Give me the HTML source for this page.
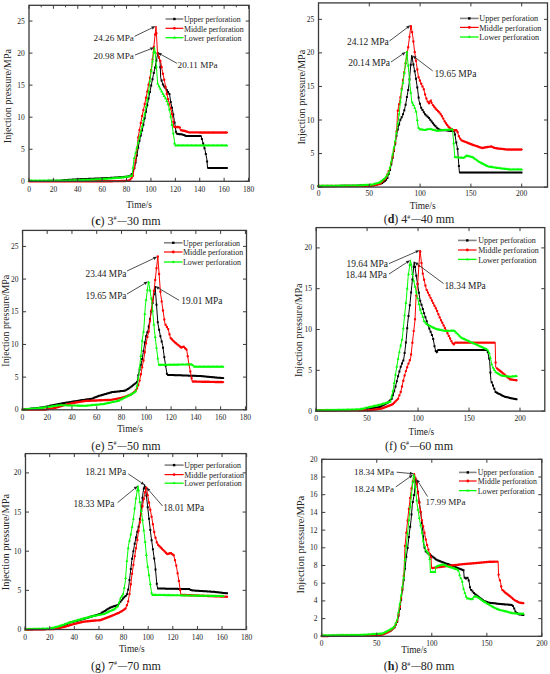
<!DOCTYPE html>
<html><head><meta charset="utf-8"><style>
html,body{margin:0;padding:0;background:#fff;width:550px;height:674px;overflow:hidden}
svg{display:block;font-family:"Liberation Serif", serif;fill:#222}
</style></head><body>
<svg width="550" height="674" viewBox="0 0 550 674">
<rect x="0" y="0" width="550" height="674" fill="#fff"/>
<polyline points="29,181 60,180.8 66,180 80,179.2 100,178.4 108,178 124,177 130,176.2 132.5,173 134.8,166.8 137,155 139.2,141.9 142.8,127.6 146.4,109.8 149.9,92 153.5,74.2 155.2,67.1 157.8,52.7 159.1,58 160.1,62 160.7,77.8 163,84.9 166.6,89.7 169.6,94.4 170.8,102.7 172.5,109.8 174.3,120.5 175.5,128 176.1,133.5 183.2,134.7 185.6,135.9 201,135.9 202.2,140 205,150 207,160 207.5,168 227.6,168" fill="none" stroke="#000000" stroke-width="1.0" stroke-linejoin="round" stroke-linecap="round"/>
<path d="M29 181h0M30.3 180.99h0M31.6 180.98h0M32.9 180.97h0M34.2 180.97h0M35.5 180.96h0M36.8 180.95h0M38.1 180.94h0M39.4 180.93h0M40.7 180.92h0M42 180.92h0M43.3 180.91h0M44.6 180.9h0M45.9 180.89h0M47.2 180.88h0M48.5 180.87h0M49.8 180.87h0M51.1 180.86h0M52.4 180.85h0M53.7 180.84h0M55 180.83h0M56.3 180.82h0M57.6 180.82h0M58.9 180.81h0M60.2 180.77h0M61.5 180.6h0M62.8 180.43h0M64.1 180.25h0M65.4 180.08h0M66.7 179.96h0M68 179.89h0M69.3 179.81h0M70.6 179.74h0M71.9 179.66h0M73.2 179.59h0M74.5 179.51h0M75.8 179.44h0M77.1 179.37h0M78.4 179.29h0M79.7 179.22h0M81 179.16h0M82.3 179.11h0M83.6 179.06h0M84.9 179h0M86.2 178.95h0M87.5 178.9h0M88.8 178.85h0M90.1 178.8h0M91.4 178.74h0M92.7 178.69h0M94 178.64h0M95.3 178.59h0M96.6 178.54h0M97.9 178.48h0M99.2 178.43h0M100.5 178.38h0M101.8 178.31h0M103.1 178.25h0M104.4 178.18h0M105.7 178.12h0M107 178.05h0M108.3 177.98h0M109.6 177.9h0M110.9 177.82h0M112.2 177.74h0M113.5 177.66h0M114.8 177.58h0M116.1 177.49h0M117.4 177.41h0M118.7 177.33h0M120 177.25h0M121.3 177.17h0M122.6 177.09h0M123.9 177.01h0M125.2 176.84h0M126.5 176.67h0M127.8 176.49h0M129.1 176.32h0M130.4 175.69h0M131.7 174.02h0M133 171.65h0M134.3 168.15h0M135.6 162.51h0M136.9 155.54h0M138.2 147.85h0M139.5 140.71h0M140.8 135.54h0M142.1 130.38h0M143.4 124.63h0M144.7 118.21h0M146 111.78h0M147.3 105.22h0M148.6 98.61h0M149.9 92h0M151.2 85.57h0M152.5 79.14h0M153.8 72.95h0M155.1 67.52h0M156.4 60.45h0M157.7 53.25h0M159 57.59h0M160.3 67.27h0M161.6 80.58h0M162.9 84.59h0M164.2 86.5h0M165.5 88.23h0M166.8 90.01h0M168.1 92.05h0M169.4 94.09h0M170.7 102.01h0M172 107.71h0M173.3 114.56h0M174.6 122.38h0M175.9 131.67h0M177.2 133.69h0M178.5 133.91h0M179.8 134.13h0M181.1 134.35h0M182.4 134.56h0M183.7 134.95h0M185 135.6h0M186.3 135.9h0M187.6 135.9h0M188.9 135.9h0M190.2 135.9h0M191.5 135.9h0M192.8 135.9h0M194.1 135.9h0M195.4 135.9h0M196.7 135.9h0M198 135.9h0M199.3 135.9h0M200.6 135.9h0M201.9 138.98h0M203.2 143.57h0M204.5 148.21h0M205.8 154h0M207.1 161.6h0M208.4 168h0M209.7 168h0M211 168h0M212.3 168h0M213.6 168h0M214.9 168h0M216.2 168h0M217.5 168h0M218.8 168h0M220.1 168h0M221.4 168h0M222.7 168h0M224 168h0M225.3 168h0M226.6 168h0" fill="none" stroke="#000000" stroke-width="2.0" stroke-linecap="square"/>
<polyline points="29,181.3 105,181.3 125,181 129,180.5 131,179 133,175.7 135.7,159.6 138.3,136.5 141.9,117 144.6,104.5 147.2,92 149.9,77.8 151.7,67.1 154,45 156,26 157.5,53 160.7,62 162.5,71.9 164.8,82.5 166.6,93.2 169,102.7 171.4,111 173.1,119.3 173.7,127 179.7,127 180.2,130 185.6,131.2 189.1,132.4 227.6,132.5" fill="none" stroke="#ff0000" stroke-width="1.0" stroke-linejoin="round" stroke-linecap="round"/>
<path d="M29 181.3h0M30.3 181.3h0M31.6 181.3h0M32.9 181.3h0M34.2 181.3h0M35.5 181.3h0M36.8 181.3h0M38.1 181.3h0M39.4 181.3h0M40.7 181.3h0M42 181.3h0M43.3 181.3h0M44.6 181.3h0M45.9 181.3h0M47.2 181.3h0M48.5 181.3h0M49.8 181.3h0M51.1 181.3h0M52.4 181.3h0M53.7 181.3h0M55 181.3h0M56.3 181.3h0M57.6 181.3h0M58.9 181.3h0M60.2 181.3h0M61.5 181.3h0M62.8 181.3h0M64.1 181.3h0M65.4 181.3h0M66.7 181.3h0M68 181.3h0M69.3 181.3h0M70.6 181.3h0M71.9 181.3h0M73.2 181.3h0M74.5 181.3h0M75.8 181.3h0M77.1 181.3h0M78.4 181.3h0M79.7 181.3h0M81 181.3h0M82.3 181.3h0M83.6 181.3h0M84.9 181.3h0M86.2 181.3h0M87.5 181.3h0M88.8 181.3h0M90.1 181.3h0M91.4 181.3h0M92.7 181.3h0M94 181.3h0M95.3 181.3h0M96.6 181.3h0M97.9 181.3h0M99.2 181.3h0M100.5 181.3h0M101.8 181.3h0M103.1 181.3h0M104.4 181.3h0M105.7 181.29h0M107 181.27h0M108.3 181.25h0M109.6 181.23h0M110.9 181.21h0M112.2 181.19h0M113.5 181.17h0M114.8 181.15h0M116.1 181.13h0M117.4 181.11h0M118.7 181.09h0M120 181.08h0M121.3 181.06h0M122.6 181.04h0M123.9 181.02h0M125.2 180.98h0M126.5 180.81h0M127.8 180.65h0M129.1 180.43h0M130.4 179.45h0M131.7 177.85h0M133 175.7h0M134.3 167.95h0M135.6 160.2h0M136.9 148.94h0M138.2 137.39h0M139.5 130h0M140.8 122.96h0M142.1 116.07h0M143.4 110.06h0M144.7 104.02h0M146 97.77h0M147.3 91.47h0M148.6 84.64h0M149.9 77.8h0M151.2 70.07h0M152.5 59.41h0M153.8 46.92h0M155.1 34.55h0M156.4 33.2h0M157.7 53.56h0M159 57.22h0M160.3 60.88h0M161.6 66.95h0M162.9 73.74h0M164.2 79.73h0M165.5 86.66h0M166.8 93.99h0M168.1 99.14h0M169.4 104.08h0M170.7 108.58h0M172 113.93h0M173.3 121.87h0M174.6 127h0M175.9 127h0M177.2 127h0M178.5 127h0M179.8 127.6h0M181.1 130.2h0M182.4 130.49h0M183.7 130.78h0M185 131.07h0M186.3 131.44h0M187.6 131.89h0M188.9 132.33h0M190.2 132.4h0M191.5 132.41h0M192.8 132.41h0M194.1 132.41h0M195.4 132.42h0M196.7 132.42h0M198 132.42h0M199.3 132.43h0M200.6 132.43h0M201.9 132.43h0M203.2 132.44h0M204.5 132.44h0M205.8 132.44h0M207.1 132.45h0M208.4 132.45h0M209.7 132.45h0M211 132.46h0M212.3 132.46h0M213.6 132.46h0M214.9 132.47h0M216.2 132.47h0M217.5 132.47h0M218.8 132.48h0M220.1 132.48h0M221.4 132.48h0M222.7 132.49h0M224 132.49h0M225.3 132.49h0M226.6 132.5h0" fill="none" stroke="#ff0000" stroke-width="2.4" stroke-linecap="round"/>
<polyline points="29,180.8 66,180.6 90,179.8 110,178.6 124,177.4 130,176.3 132.1,175.7 133.9,159.6 137.5,145.4 141.9,127.6 145.5,109.8 148.1,95.6 149.9,81.4 151.7,67.1 154.5,47 155.9,60 157.7,83.7 161.9,92 166,99.1 168.4,105.1 170.2,113.4 171.9,124.1 174.3,140 174.8,145.5 227.6,145.5" fill="none" stroke="#00ff00" stroke-width="1.0" stroke-linejoin="round" stroke-linecap="round"/>
<path d="M29 179.1l1.5 2.6h-3zM30.3 179.09l1.5 2.6h-3zM31.6 179.09l1.5 2.6h-3zM32.9 179.08l1.5 2.6h-3zM34.2 179.07l1.5 2.6h-3zM35.5 179.06l1.5 2.6h-3zM36.8 179.06l1.5 2.6h-3zM38.1 179.05l1.5 2.6h-3zM39.4 179.04l1.5 2.6h-3zM40.7 179.04l1.5 2.6h-3zM42 179.03l1.5 2.6h-3zM43.3 179.02l1.5 2.6h-3zM44.6 179.02l1.5 2.6h-3zM45.9 179.01l1.5 2.6h-3zM47.2 179l1.5 2.6h-3zM48.5 178.99l1.5 2.6h-3zM49.8 178.99l1.5 2.6h-3zM51.1 178.98l1.5 2.6h-3zM52.4 178.97l1.5 2.6h-3zM53.7 178.97l1.5 2.6h-3zM55 178.96l1.5 2.6h-3zM56.3 178.95l1.5 2.6h-3zM57.6 178.95l1.5 2.6h-3zM58.9 178.94l1.5 2.6h-3zM60.2 178.93l1.5 2.6h-3zM61.5 178.92l1.5 2.6h-3zM62.8 178.92l1.5 2.6h-3zM64.1 178.91l1.5 2.6h-3zM65.4 178.9l1.5 2.6h-3zM66.7 178.88l1.5 2.6h-3zM68 178.83l1.5 2.6h-3zM69.3 178.79l1.5 2.6h-3zM70.6 178.75l1.5 2.6h-3zM71.9 178.7l1.5 2.6h-3zM73.2 178.66l1.5 2.6h-3zM74.5 178.62l1.5 2.6h-3zM75.8 178.57l1.5 2.6h-3zM77.1 178.53l1.5 2.6h-3zM78.4 178.49l1.5 2.6h-3zM79.7 178.44l1.5 2.6h-3zM81 178.4l1.5 2.6h-3zM82.3 178.36l1.5 2.6h-3zM83.6 178.31l1.5 2.6h-3zM84.9 178.27l1.5 2.6h-3zM86.2 178.23l1.5 2.6h-3zM87.5 178.18l1.5 2.6h-3zM88.8 178.14l1.5 2.6h-3zM90.1 178.09l1.5 2.6h-3zM91.4 178.02l1.5 2.6h-3zM92.7 177.94l1.5 2.6h-3zM94 177.86l1.5 2.6h-3zM95.3 177.78l1.5 2.6h-3zM96.6 177.7l1.5 2.6h-3zM97.9 177.63l1.5 2.6h-3zM99.2 177.55l1.5 2.6h-3zM100.5 177.47l1.5 2.6h-3zM101.8 177.39l1.5 2.6h-3zM103.1 177.31l1.5 2.6h-3zM104.4 177.24l1.5 2.6h-3zM105.7 177.16l1.5 2.6h-3zM107 177.08l1.5 2.6h-3zM108.3 177l1.5 2.6h-3zM109.6 176.92l1.5 2.6h-3zM110.9 176.82l1.5 2.6h-3zM112.2 176.71l1.5 2.6h-3zM113.5 176.6l1.5 2.6h-3zM114.8 176.49l1.5 2.6h-3zM116.1 176.38l1.5 2.6h-3zM117.4 176.27l1.5 2.6h-3zM118.7 176.15l1.5 2.6h-3zM120 176.04l1.5 2.6h-3zM121.3 175.93l1.5 2.6h-3zM122.6 175.82l1.5 2.6h-3zM123.9 175.71l1.5 2.6h-3zM125.2 175.48l1.5 2.6h-3zM126.5 175.24l1.5 2.6h-3zM127.8 175l1.5 2.6h-3zM129.1 174.77l1.5 2.6h-3zM130.4 174.49l1.5 2.6h-3zM131.7 174.11l1.5 2.6h-3zM133 165.95l1.5 2.6h-3zM134.3 156.32l1.5 2.6h-3zM135.6 151.19l1.5 2.6h-3zM136.9 146.07l1.5 2.6h-3zM138.2 140.87l1.5 2.6h-3zM139.5 135.61l1.5 2.6h-3zM140.8 130.35l1.5 2.6h-3zM142.1 124.91l1.5 2.6h-3zM143.4 118.48l1.5 2.6h-3zM144.7 112.06l1.5 2.6h-3zM146 105.37l1.5 2.6h-3zM147.3 98.27l1.5 2.6h-3zM148.6 89.96l1.5 2.6h-3zM149.9 79.7l1.5 2.6h-3zM151.2 69.37l1.5 2.6h-3zM152.5 59.66l1.5 2.6h-3zM153.8 50.32l1.5 2.6h-3zM155.1 50.87l1.5 2.6h-3zM156.4 64.88l1.5 2.6h-3zM157.7 82l1.5 2.6h-3zM159 84.57l1.5 2.6h-3zM160.3 87.14l1.5 2.6h-3zM161.6 89.71l1.5 2.6h-3zM162.9 92.03l1.5 2.6h-3zM164.2 94.28l1.5 2.6h-3zM165.5 96.53l1.5 2.6h-3zM166.8 99.4l1.5 2.6h-3zM168.1 102.65l1.5 2.6h-3zM169.4 108.01l1.5 2.6h-3zM170.7 114.85l1.5 2.6h-3zM172 123.06l1.5 2.6h-3zM173.3 131.68l1.5 2.6h-3zM174.6 141.6l1.5 2.6h-3zM175.9 143.8l1.5 2.6h-3zM177.2 143.8l1.5 2.6h-3zM178.5 143.8l1.5 2.6h-3zM179.8 143.8l1.5 2.6h-3zM181.1 143.8l1.5 2.6h-3zM182.4 143.8l1.5 2.6h-3zM183.7 143.8l1.5 2.6h-3zM185 143.8l1.5 2.6h-3zM186.3 143.8l1.5 2.6h-3zM187.6 143.8l1.5 2.6h-3zM188.9 143.8l1.5 2.6h-3zM190.2 143.8l1.5 2.6h-3zM191.5 143.8l1.5 2.6h-3zM192.8 143.8l1.5 2.6h-3zM194.1 143.8l1.5 2.6h-3zM195.4 143.8l1.5 2.6h-3zM196.7 143.8l1.5 2.6h-3zM198 143.8l1.5 2.6h-3zM199.3 143.8l1.5 2.6h-3zM200.6 143.8l1.5 2.6h-3zM201.9 143.8l1.5 2.6h-3zM203.2 143.8l1.5 2.6h-3zM204.5 143.8l1.5 2.6h-3zM205.8 143.8l1.5 2.6h-3zM207.1 143.8l1.5 2.6h-3zM208.4 143.8l1.5 2.6h-3zM209.7 143.8l1.5 2.6h-3zM211 143.8l1.5 2.6h-3zM212.3 143.8l1.5 2.6h-3zM213.6 143.8l1.5 2.6h-3zM214.9 143.8l1.5 2.6h-3zM216.2 143.8l1.5 2.6h-3zM217.5 143.8l1.5 2.6h-3zM218.8 143.8l1.5 2.6h-3zM220.1 143.8l1.5 2.6h-3zM221.4 143.8l1.5 2.6h-3zM222.7 143.8l1.5 2.6h-3zM224 143.8l1.5 2.6h-3zM225.3 143.8l1.5 2.6h-3zM226.6 143.8l1.5 2.6h-3z" fill="#00ff00" stroke="none"/>
<rect x="29" y="5.3" width="220.2" height="176" fill="none" stroke="#3a3a3a" stroke-width="1.3"/>
<line x1="29" y1="181.3" x2="29" y2="177.8" stroke="#3a3a3a" stroke-width="1"/>
<line x1="29" y1="5.3" x2="29" y2="8.8" stroke="#3a3a3a" stroke-width="1"/>
<text x="29" y="191.9" font-size="7.5" text-anchor="middle" font-weight="normal" >0</text>
<line x1="41.19" y1="5.3" x2="41.19" y2="7.3" stroke="#3a3a3a" stroke-width="1"/>
<line x1="53.39" y1="181.3" x2="53.39" y2="177.8" stroke="#3a3a3a" stroke-width="1"/>
<line x1="53.39" y1="5.3" x2="53.39" y2="8.8" stroke="#3a3a3a" stroke-width="1"/>
<text x="53.39" y="191.9" font-size="7.5" text-anchor="middle" font-weight="normal" >20</text>
<line x1="65.58" y1="5.3" x2="65.58" y2="7.3" stroke="#3a3a3a" stroke-width="1"/>
<line x1="77.78" y1="181.3" x2="77.78" y2="177.8" stroke="#3a3a3a" stroke-width="1"/>
<line x1="77.78" y1="5.3" x2="77.78" y2="8.8" stroke="#3a3a3a" stroke-width="1"/>
<text x="77.78" y="191.9" font-size="7.5" text-anchor="middle" font-weight="normal" >40</text>
<line x1="89.97" y1="5.3" x2="89.97" y2="7.3" stroke="#3a3a3a" stroke-width="1"/>
<line x1="102.17" y1="181.3" x2="102.17" y2="177.8" stroke="#3a3a3a" stroke-width="1"/>
<line x1="102.17" y1="5.3" x2="102.17" y2="8.8" stroke="#3a3a3a" stroke-width="1"/>
<text x="102.17" y="191.9" font-size="7.5" text-anchor="middle" font-weight="normal" >60</text>
<line x1="114.36" y1="5.3" x2="114.36" y2="7.3" stroke="#3a3a3a" stroke-width="1"/>
<line x1="126.56" y1="181.3" x2="126.56" y2="177.8" stroke="#3a3a3a" stroke-width="1"/>
<line x1="126.56" y1="5.3" x2="126.56" y2="8.8" stroke="#3a3a3a" stroke-width="1"/>
<text x="126.56" y="191.9" font-size="7.5" text-anchor="middle" font-weight="normal" >80</text>
<line x1="138.75" y1="5.3" x2="138.75" y2="7.3" stroke="#3a3a3a" stroke-width="1"/>
<line x1="150.94" y1="181.3" x2="150.94" y2="177.8" stroke="#3a3a3a" stroke-width="1"/>
<line x1="150.94" y1="5.3" x2="150.94" y2="8.8" stroke="#3a3a3a" stroke-width="1"/>
<text x="150.94" y="191.9" font-size="7.5" text-anchor="middle" font-weight="normal" >100</text>
<line x1="163.14" y1="5.3" x2="163.14" y2="7.3" stroke="#3a3a3a" stroke-width="1"/>
<line x1="175.33" y1="181.3" x2="175.33" y2="177.8" stroke="#3a3a3a" stroke-width="1"/>
<line x1="175.33" y1="5.3" x2="175.33" y2="8.8" stroke="#3a3a3a" stroke-width="1"/>
<text x="175.33" y="191.9" font-size="7.5" text-anchor="middle" font-weight="normal" >120</text>
<line x1="187.53" y1="5.3" x2="187.53" y2="7.3" stroke="#3a3a3a" stroke-width="1"/>
<line x1="199.72" y1="181.3" x2="199.72" y2="177.8" stroke="#3a3a3a" stroke-width="1"/>
<line x1="199.72" y1="5.3" x2="199.72" y2="8.8" stroke="#3a3a3a" stroke-width="1"/>
<text x="199.72" y="191.9" font-size="7.5" text-anchor="middle" font-weight="normal" >140</text>
<line x1="211.92" y1="5.3" x2="211.92" y2="7.3" stroke="#3a3a3a" stroke-width="1"/>
<line x1="224.11" y1="181.3" x2="224.11" y2="177.8" stroke="#3a3a3a" stroke-width="1"/>
<line x1="224.11" y1="5.3" x2="224.11" y2="8.8" stroke="#3a3a3a" stroke-width="1"/>
<text x="224.11" y="191.9" font-size="7.5" text-anchor="middle" font-weight="normal" >160</text>
<line x1="236.31" y1="5.3" x2="236.31" y2="7.3" stroke="#3a3a3a" stroke-width="1"/>
<line x1="248.5" y1="181.3" x2="248.5" y2="177.8" stroke="#3a3a3a" stroke-width="1"/>
<line x1="248.5" y1="5.3" x2="248.5" y2="8.8" stroke="#3a3a3a" stroke-width="1"/>
<text x="248.5" y="191.9" font-size="7.5" text-anchor="middle" font-weight="normal" >180</text>
<line x1="29" y1="181.3" x2="32.5" y2="181.3" stroke="#3a3a3a" stroke-width="1"/>
<line x1="249.2" y1="181.3" x2="245.7" y2="181.3" stroke="#3a3a3a" stroke-width="1"/>
<text x="24.8" y="183.85" font-size="7.5" text-anchor="end" font-weight="normal" >0</text>
<line x1="29" y1="149.25" x2="32.5" y2="149.25" stroke="#3a3a3a" stroke-width="1"/>
<line x1="249.2" y1="149.25" x2="245.7" y2="149.25" stroke="#3a3a3a" stroke-width="1"/>
<text x="24.8" y="151.8" font-size="7.5" text-anchor="end" font-weight="normal" >5</text>
<line x1="29" y1="117.2" x2="32.5" y2="117.2" stroke="#3a3a3a" stroke-width="1"/>
<line x1="249.2" y1="117.2" x2="245.7" y2="117.2" stroke="#3a3a3a" stroke-width="1"/>
<text x="24.8" y="119.75" font-size="7.5" text-anchor="end" font-weight="normal" >10</text>
<line x1="29" y1="85.15" x2="32.5" y2="85.15" stroke="#3a3a3a" stroke-width="1"/>
<line x1="249.2" y1="85.15" x2="245.7" y2="85.15" stroke="#3a3a3a" stroke-width="1"/>
<text x="24.8" y="87.7" font-size="7.5" text-anchor="end" font-weight="normal" >15</text>
<line x1="29" y1="53.1" x2="32.5" y2="53.1" stroke="#3a3a3a" stroke-width="1"/>
<line x1="249.2" y1="53.1" x2="245.7" y2="53.1" stroke="#3a3a3a" stroke-width="1"/>
<text x="24.8" y="55.65" font-size="7.5" text-anchor="end" font-weight="normal" >20</text>
<line x1="29" y1="21.05" x2="32.5" y2="21.05" stroke="#3a3a3a" stroke-width="1"/>
<line x1="249.2" y1="21.05" x2="245.7" y2="21.05" stroke="#3a3a3a" stroke-width="1"/>
<text x="24.8" y="23.6" font-size="7.5" text-anchor="end" font-weight="normal" >25</text>
<line x1="165.5" y1="19" x2="183.3" y2="19" stroke="#858585" stroke-width="1.6"/>
<rect x="173.2" y="17.8" width="2.4" height="2.4" fill="#000"/>
<text x="183.9" y="21.8" font-size="7.9" text-anchor="start" font-weight="normal" >Upper perforation</text>
<line x1="165.5" y1="28.3" x2="183.3" y2="28.3" stroke="#ff0000" stroke-width="1.2"/>
<circle cx="174.4" cy="28.3" r="1.4" fill="#ff0000"/>
<text x="183.9" y="31.5" font-size="7.9" text-anchor="start" font-weight="normal" >Middle perforation</text>
<line x1="165.5" y1="37.7" x2="183.3" y2="37.7" stroke="#00ff00" stroke-width="1.3"/>
<path d="M174.4 36l1.5 2.6h-3z" fill="#00ff00"/>
<text x="183.9" y="40.9" font-size="7.9" text-anchor="start" font-weight="normal" >Lower perforation</text>
<text x="93.6" y="40.5" font-size="9.2" text-anchor="start" font-weight="normal" >24.26 MPa</text>
<line x1="134.5" y1="36.4" x2="151.9" y2="27.95" stroke="#222" stroke-width="0.8"/>
<polygon points="155.5,26.2 152.6,29.39 151.2,26.51" fill="#222"/>
<text x="93.6" y="58.7" font-size="9.2" text-anchor="start" font-weight="normal" >20.98 MPa</text>
<line x1="135" y1="55" x2="150.47" y2="48.96" stroke="#222" stroke-width="0.8"/>
<polygon points="154.2,47.5 151.06,50.45 149.89,47.47" fill="#222"/>
<text x="177.6" y="67.9" font-size="9.2" text-anchor="start" font-weight="normal" >20.11 MPa</text>
<line x1="176.9" y1="63.3" x2="161.1" y2="54.54" stroke="#222" stroke-width="0.8"/>
<polygon points="157.6,52.6 161.87,53.14 160.32,55.94" fill="#222"/>
<text x="0" y="0" font-size="10.15" text-anchor="middle" transform="translate(11.04,96.1) rotate(-90)">Injection pressure/MPa</text>
<text x="139" y="207.5" font-size="9.4" text-anchor="middle" font-weight="normal" >Time/s</text>
<text x="125.9" y="224.9" font-size="12" text-anchor="middle">(<tspan font-weight="bold">c</tspan>) 3<tspan font-size="6" dy="-4.6">#</tspan><tspan dy="3.6" font-size="9.5">&#8202;&#8212;</tspan><tspan dy="1">30 mm</tspan></text>
<polyline points="318.5,186.2 373.7,185.4 382.6,182.9 387.1,179 390,170.1 392.3,159.7 394.5,147.9 396.7,134.5 398.2,127.8 400.4,119.7 402.7,115.2 404.2,110.8 405.6,104.8 407.1,95.9 408.2,90 409.1,83.6 410.5,68 411.7,55.3 413.7,66 415.7,76.7 417.7,90.1 419,100.8 421,107.5 425,114.2 429.1,118.2 433.1,123.5 437.1,128.2 440.4,130.2 445.1,130.2 450.5,130.9 454.5,131.2 455.8,140 457.6,149 459.4,172.6 522,172.6" fill="none" stroke="#000000" stroke-width="1.0" stroke-linejoin="round" stroke-linecap="round"/>
<path d="M318.5 186.2h0M319.8 186.18h0M321.1 186.16h0M322.4 186.14h0M323.7 186.12h0M325 186.11h0M326.3 186.09h0M327.6 186.07h0M328.9 186.05h0M330.2 186.03h0M331.5 186.01h0M332.8 185.99h0M334.1 185.97h0M335.4 185.96h0M336.7 185.94h0M338 185.92h0M339.3 185.9h0M340.6 185.88h0M341.9 185.86h0M343.2 185.84h0M344.5 185.82h0M345.8 185.8h0M347.1 185.79h0M348.4 185.77h0M349.7 185.75h0M351 185.73h0M352.3 185.71h0M353.6 185.69h0M354.9 185.67h0M356.2 185.65h0M357.5 185.63h0M358.8 185.62h0M360.1 185.6h0M361.4 185.58h0M362.7 185.56h0M364 185.54h0M365.3 185.52h0M366.6 185.5h0M367.9 185.48h0M369.2 185.47h0M370.5 185.45h0M371.8 185.43h0M373.1 185.41h0M374.4 185.2h0M375.7 184.84h0M377 184.47h0M378.3 184.11h0M379.6 183.74h0M380.9 183.38h0M382.2 183.01h0M383.5 182.12h0M384.8 180.99h0M386.1 179.87h0M387.4 178.08h0M388.7 174.09h0M390 170.1h0M391.3 164.22h0M392.6 158.09h0M393.9 151.12h0M395.2 143.64h0M396.5 135.72h0M397.8 129.59h0M399.1 124.49h0M400.4 119.7h0M401.7 117.16h0M403 114.32h0M404.3 110.37h0M405.6 104.8h0M406.9 97.09h0M408.2 90h0M409.5 79.14h0M410.8 64.82h0M412.1 57.44h0M413.4 64.4h0M414.7 71.35h0M416 78.71h0M417.3 87.42h0M418.6 97.51h0M419.9 103.82h0M421.2 107.84h0M422.5 110.01h0M423.8 112.19h0M425.1 114.3h0M426.4 115.57h0M427.7 116.83h0M429 118.1h0M430.3 119.79h0M431.6 121.51h0M432.9 123.24h0M434.2 124.79h0M435.5 126.32h0M436.8 127.85h0M438.1 128.81h0M439.4 129.59h0M440.7 130.2h0M442 130.2h0M443.3 130.2h0M444.6 130.2h0M445.9 130.3h0M447.2 130.47h0M448.5 130.64h0M449.8 130.81h0M451.1 130.95h0M452.4 131.04h0M453.7 131.14h0M455 134.58h0M456.3 142.5h0M457.6 149h0M458.9 166.04h0M460.2 172.6h0M461.5 172.6h0M462.8 172.6h0M464.1 172.6h0M465.4 172.6h0M466.7 172.6h0M468 172.6h0M469.3 172.6h0M470.6 172.6h0M471.9 172.6h0M473.2 172.6h0M474.5 172.6h0M475.8 172.6h0M477.1 172.6h0M478.4 172.6h0M479.7 172.6h0M481 172.6h0M482.3 172.6h0M483.6 172.6h0M484.9 172.6h0M486.2 172.6h0M487.5 172.6h0M488.8 172.6h0M490.1 172.6h0M491.4 172.6h0M492.7 172.6h0M494 172.6h0M495.3 172.6h0M496.6 172.6h0M497.9 172.6h0M499.2 172.6h0M500.5 172.6h0M501.8 172.6h0M503.1 172.6h0M504.4 172.6h0M505.7 172.6h0M507 172.6h0M508.3 172.6h0M509.6 172.6h0M510.9 172.6h0M512.2 172.6h0M513.5 172.6h0M514.8 172.6h0M516.1 172.6h0M517.4 172.6h0M518.7 172.6h0M520 172.6h0M521.3 172.6h0" fill="none" stroke="#000000" stroke-width="2.0" stroke-linecap="square"/>
<polyline points="318.5,186 370,185.8 380,184 386,178 390,168 393,155 396,138 397,125 397.5,112.3 399,104.8 400.9,94.5 402.7,81.8 404.5,70.9 406.4,58.2 408.2,47.3 409.1,40 411,25 413,38 414.4,50 416.4,63.4 418.4,76.7 421,83.4 423.7,88.8 425,94.1 427.1,100.8 429.1,103.5 431.1,99.5 431.7,103.5 435.7,108.8 439.8,112.8 442.4,116.8 445.1,122.2 449.1,127.5 453.1,130.2 457.1,130.2 458.5,135.6 461.1,140.2 472.7,144.8 482,148 491.3,146.4 494.4,148 506.7,149.5 522.2,149.5" fill="none" stroke="#ff0000" stroke-width="1.0" stroke-linejoin="round" stroke-linecap="round"/>
<path d="M318.5 186h0M319.8 185.99h0M321.1 185.99h0M322.4 185.98h0M323.7 185.98h0M325 185.97h0M326.3 185.97h0M327.6 185.96h0M328.9 185.96h0M330.2 185.95h0M331.5 185.95h0M332.8 185.94h0M334.1 185.94h0M335.4 185.93h0M336.7 185.93h0M338 185.92h0M339.3 185.92h0M340.6 185.91h0M341.9 185.91h0M343.2 185.9h0M344.5 185.9h0M345.8 185.89h0M347.1 185.89h0M348.4 185.88h0M349.7 185.88h0M351 185.87h0M352.3 185.87h0M353.6 185.86h0M354.9 185.86h0M356.2 185.85h0M357.5 185.85h0M358.8 185.84h0M360.1 185.84h0M361.4 185.83h0M362.7 185.83h0M364 185.82h0M365.3 185.82h0M366.6 185.81h0M367.9 185.81h0M369.2 185.8h0M370.5 185.71h0M371.8 185.48h0M373.1 185.24h0M374.4 185.01h0M375.7 184.77h0M377 184.54h0M378.3 184.31h0M379.6 184.07h0M380.9 183.1h0M382.2 181.8h0M383.5 180.5h0M384.8 179.2h0M386.1 177.75h0M387.4 174.5h0M388.7 171.25h0M390 168h0M391.3 162.37h0M392.6 156.73h0M393.9 149.9h0M395.2 142.53h0M396.5 131.5h0M397.8 110.8h0M399.1 104.26h0M400.4 97.21h0M401.7 88.86h0M403 79.98h0M404.3 72.11h0M405.6 63.55h0M406.9 55.17h0M408.2 47.3h0M409.5 36.84h0M410.8 26.58h0M412.1 32.15h0M413.4 41.43h0M414.7 52.01h0M416 60.72h0M417.3 69.39h0M418.6 77.22h0M419.9 80.57h0M421.2 83.8h0M422.5 86.4h0M423.8 89.21h0M425.1 94.42h0M426.4 98.57h0M427.7 101.61h0M429 103.37h0M430.3 101.1h0M431.6 102.83h0M432.9 105.09h0M434.2 106.81h0M435.5 108.54h0M436.8 109.87h0M438.1 111.14h0M439.4 112.41h0M440.7 114.18h0M442 116.18h0M443.3 118.6h0M444.6 121.2h0M445.9 123.26h0M447.2 124.98h0M448.5 126.71h0M449.8 127.97h0M451.1 128.85h0M452.4 129.73h0M453.7 130.2h0M455 130.2h0M456.3 130.2h0M457.6 132.13h0M458.9 136.31h0M460.2 138.61h0M461.5 140.36h0M462.8 140.87h0M464.1 141.39h0M465.4 141.91h0M466.7 142.42h0M468 142.94h0M469.3 143.45h0M470.6 143.97h0M471.9 144.48h0M473.2 144.97h0M474.5 145.42h0M475.8 145.87h0M477.1 146.31h0M478.4 146.76h0M479.7 147.21h0M481 147.66h0M482.3 147.95h0M483.6 147.72h0M484.9 147.5h0M486.2 147.28h0M487.5 147.05h0M488.8 146.83h0M490.1 146.61h0M491.4 146.45h0M492.7 147.12h0M494 147.79h0M495.3 148.11h0M496.6 148.27h0M497.9 148.43h0M499.2 148.59h0M500.5 148.74h0M501.8 148.9h0M503.1 149.06h0M504.4 149.22h0M505.7 149.38h0M507 149.5h0M508.3 149.5h0M509.6 149.5h0M510.9 149.5h0M512.2 149.5h0M513.5 149.5h0M514.8 149.5h0M516.1 149.5h0M517.4 149.5h0M518.7 149.5h0M520 149.5h0M521.3 149.5h0" fill="none" stroke="#ff0000" stroke-width="2.4" stroke-linecap="round"/>
<polyline points="318.5,186 340,185.8 360,185.5 372.3,184.6 379.7,182.5 384.9,178.3 388.6,173.1 390.8,164.2 393,152.3 395.3,140.4 396.7,131.5 397.5,125.6 399,115.2 400.4,101.9 401.6,90 402.7,85.5 405.5,63.6 406.8,51.2 408.2,65.5 410,85.5 411.8,101.8 414.5,107.3 416.4,112.7 418.2,127.3 420,129.4 425,130 430,129 437.2,130.9 441.8,130.3 452.6,129.5 454.8,157.2 463.5,158 466.5,155.6 472.7,157.2 479,161.8 488.2,166.5 497.5,168 509.8,169.5 522.2,169.5" fill="none" stroke="#00ff00" stroke-width="1.0" stroke-linejoin="round" stroke-linecap="round"/>
<path d="M318.5 184.3l1.5 2.6h-3zM319.8 184.29l1.5 2.6h-3zM321.1 184.28l1.5 2.6h-3zM322.4 184.26l1.5 2.6h-3zM323.7 184.25l1.5 2.6h-3zM325 184.24l1.5 2.6h-3zM326.3 184.23l1.5 2.6h-3zM327.6 184.22l1.5 2.6h-3zM328.9 184.2l1.5 2.6h-3zM330.2 184.19l1.5 2.6h-3zM331.5 184.18l1.5 2.6h-3zM332.8 184.17l1.5 2.6h-3zM334.1 184.15l1.5 2.6h-3zM335.4 184.14l1.5 2.6h-3zM336.7 184.13l1.5 2.6h-3zM338 184.12l1.5 2.6h-3zM339.3 184.11l1.5 2.6h-3zM340.6 184.09l1.5 2.6h-3zM341.9 184.07l1.5 2.6h-3zM343.2 184.05l1.5 2.6h-3zM344.5 184.03l1.5 2.6h-3zM345.8 184.01l1.5 2.6h-3zM347.1 183.99l1.5 2.6h-3zM348.4 183.97l1.5 2.6h-3zM349.7 183.95l1.5 2.6h-3zM351 183.94l1.5 2.6h-3zM352.3 183.92l1.5 2.6h-3zM353.6 183.9l1.5 2.6h-3zM354.9 183.88l1.5 2.6h-3zM356.2 183.86l1.5 2.6h-3zM357.5 183.84l1.5 2.6h-3zM358.8 183.82l1.5 2.6h-3zM360.1 183.79l1.5 2.6h-3zM361.4 183.7l1.5 2.6h-3zM362.7 183.6l1.5 2.6h-3zM364 183.51l1.5 2.6h-3zM365.3 183.41l1.5 2.6h-3zM366.6 183.32l1.5 2.6h-3zM367.9 183.22l1.5 2.6h-3zM369.2 183.13l1.5 2.6h-3zM370.5 183.03l1.5 2.6h-3zM371.8 182.94l1.5 2.6h-3zM373.1 182.67l1.5 2.6h-3zM374.4 182.3l1.5 2.6h-3zM375.7 181.94l1.5 2.6h-3zM377 181.57l1.5 2.6h-3zM378.3 181.2l1.5 2.6h-3zM379.6 180.83l1.5 2.6h-3zM380.9 179.83l1.5 2.6h-3zM382.2 178.78l1.5 2.6h-3zM383.5 177.73l1.5 2.6h-3zM384.8 176.68l1.5 2.6h-3zM386.1 174.91l1.5 2.6h-3zM387.4 173.09l1.5 2.6h-3zM388.7 171l1.5 2.6h-3zM390 165.74l1.5 2.6h-3zM391.3 159.8l1.5 2.6h-3zM392.6 152.76l1.5 2.6h-3zM393.9 145.94l1.5 2.6h-3zM395.2 139.22l1.5 2.6h-3zM396.5 131.07l1.5 2.6h-3zM397.8 121.82l1.5 2.6h-3zM399.1 112.55l1.5 2.6h-3zM400.4 100.2l1.5 2.6h-3zM401.7 87.89l1.5 2.6h-3zM403 81.45l1.5 2.6h-3zM404.3 71.29l1.5 2.6h-3zM405.6 60.95l1.5 2.6h-3zM406.9 50.52l1.5 2.6h-3zM408.2 63.8l1.5 2.6h-3zM409.5 78.24l1.5 2.6h-3zM410.8 91.04l1.5 2.6h-3zM412.1 100.71l1.5 2.6h-3zM413.4 103.36l1.5 2.6h-3zM414.7 106.17l1.5 2.6h-3zM416 109.86l1.5 2.6h-3zM417.3 118.3l1.5 2.6h-3zM418.6 126.07l1.5 2.6h-3zM419.9 127.58l1.5 2.6h-3zM421.2 127.84l1.5 2.6h-3zM422.5 128l1.5 2.6h-3zM423.8 128.16l1.5 2.6h-3zM425.1 128.28l1.5 2.6h-3zM426.4 128.02l1.5 2.6h-3zM427.7 127.76l1.5 2.6h-3zM429 127.5l1.5 2.6h-3zM430.3 127.38l1.5 2.6h-3zM431.6 127.72l1.5 2.6h-3zM432.9 128.07l1.5 2.6h-3zM434.2 128.41l1.5 2.6h-3zM435.5 128.75l1.5 2.6h-3zM436.8 129.09l1.5 2.6h-3zM438.1 129.08l1.5 2.6h-3zM439.4 128.91l1.5 2.6h-3zM440.7 128.74l1.5 2.6h-3zM442 128.59l1.5 2.6h-3zM443.3 128.49l1.5 2.6h-3zM444.6 128.39l1.5 2.6h-3zM445.9 128.3l1.5 2.6h-3zM447.2 128.2l1.5 2.6h-3zM448.5 128.1l1.5 2.6h-3zM449.8 128.01l1.5 2.6h-3zM451.1 127.91l1.5 2.6h-3zM452.4 127.81l1.5 2.6h-3zM453.7 141.65l1.5 2.6h-3zM455 155.52l1.5 2.6h-3zM456.3 155.64l1.5 2.6h-3zM457.6 155.76l1.5 2.6h-3zM458.9 155.88l1.5 2.6h-3zM460.2 156l1.5 2.6h-3zM461.5 156.12l1.5 2.6h-3zM462.8 156.24l1.5 2.6h-3zM464.1 155.82l1.5 2.6h-3zM465.4 154.78l1.5 2.6h-3zM466.7 153.95l1.5 2.6h-3zM468 154.29l1.5 2.6h-3zM469.3 154.62l1.5 2.6h-3zM470.6 154.96l1.5 2.6h-3zM471.9 155.29l1.5 2.6h-3zM473.2 155.87l1.5 2.6h-3zM474.5 156.81l1.5 2.6h-3zM475.8 157.76l1.5 2.6h-3zM477.1 158.71l1.5 2.6h-3zM478.4 159.66l1.5 2.6h-3zM479.7 160.46l1.5 2.6h-3zM481 161.12l1.5 2.6h-3zM482.3 161.79l1.5 2.6h-3zM483.6 162.45l1.5 2.6h-3zM484.9 163.11l1.5 2.6h-3zM486.2 163.78l1.5 2.6h-3zM487.5 164.44l1.5 2.6h-3zM488.8 164.9l1.5 2.6h-3zM490.1 165.11l1.5 2.6h-3zM491.4 165.32l1.5 2.6h-3zM492.7 165.53l1.5 2.6h-3zM494 165.74l1.5 2.6h-3zM495.3 165.95l1.5 2.6h-3zM496.6 166.15l1.5 2.6h-3zM497.9 166.35l1.5 2.6h-3zM499.2 166.51l1.5 2.6h-3zM500.5 166.67l1.5 2.6h-3zM501.8 166.82l1.5 2.6h-3zM503.1 166.98l1.5 2.6h-3zM504.4 167.14l1.5 2.6h-3zM505.7 167.3l1.5 2.6h-3zM507 167.46l1.5 2.6h-3zM508.3 167.62l1.5 2.6h-3zM509.6 167.78l1.5 2.6h-3zM510.9 167.8l1.5 2.6h-3zM512.2 167.8l1.5 2.6h-3zM513.5 167.8l1.5 2.6h-3zM514.8 167.8l1.5 2.6h-3zM516.1 167.8l1.5 2.6h-3zM517.4 167.8l1.5 2.6h-3zM518.7 167.8l1.5 2.6h-3zM520 167.8l1.5 2.6h-3zM521.3 167.8l1.5 2.6h-3z" fill="#00ff00" stroke="none"/>
<rect x="318.5" y="2.9" width="229" height="184.2" fill="none" stroke="#3a3a3a" stroke-width="1.3"/>
<line x1="318.5" y1="187.1" x2="318.5" y2="183.6" stroke="#3a3a3a" stroke-width="1"/>
<line x1="318.5" y1="2.9" x2="318.5" y2="6.4" stroke="#3a3a3a" stroke-width="1"/>
<text x="318.5" y="196.4" font-size="7.5" text-anchor="middle" font-weight="normal" >0</text>
<line x1="369.3" y1="187.1" x2="369.3" y2="183.6" stroke="#3a3a3a" stroke-width="1"/>
<line x1="369.3" y1="2.9" x2="369.3" y2="6.4" stroke="#3a3a3a" stroke-width="1"/>
<text x="369.3" y="196.4" font-size="7.5" text-anchor="middle" font-weight="normal" >50</text>
<line x1="420.1" y1="187.1" x2="420.1" y2="183.6" stroke="#3a3a3a" stroke-width="1"/>
<line x1="420.1" y1="2.9" x2="420.1" y2="6.4" stroke="#3a3a3a" stroke-width="1"/>
<text x="420.1" y="196.4" font-size="7.5" text-anchor="middle" font-weight="normal" >100</text>
<line x1="470.9" y1="187.1" x2="470.9" y2="183.6" stroke="#3a3a3a" stroke-width="1"/>
<line x1="470.9" y1="2.9" x2="470.9" y2="6.4" stroke="#3a3a3a" stroke-width="1"/>
<text x="470.9" y="196.4" font-size="7.5" text-anchor="middle" font-weight="normal" >150</text>
<line x1="521.7" y1="187.1" x2="521.7" y2="183.6" stroke="#3a3a3a" stroke-width="1"/>
<line x1="521.7" y1="2.9" x2="521.7" y2="6.4" stroke="#3a3a3a" stroke-width="1"/>
<text x="521.7" y="196.4" font-size="7.5" text-anchor="middle" font-weight="normal" >200</text>
<line x1="318.5" y1="187.1" x2="322" y2="187.1" stroke="#3a3a3a" stroke-width="1"/>
<line x1="547.5" y1="187.1" x2="544" y2="187.1" stroke="#3a3a3a" stroke-width="1"/>
<text x="314.3" y="189.65" font-size="7.5" text-anchor="end" font-weight="normal" >0</text>
<line x1="318.5" y1="153.55" x2="322" y2="153.55" stroke="#3a3a3a" stroke-width="1"/>
<line x1="547.5" y1="153.55" x2="544" y2="153.55" stroke="#3a3a3a" stroke-width="1"/>
<text x="314.3" y="156.1" font-size="7.5" text-anchor="end" font-weight="normal" >5</text>
<line x1="318.5" y1="120" x2="322" y2="120" stroke="#3a3a3a" stroke-width="1"/>
<line x1="547.5" y1="120" x2="544" y2="120" stroke="#3a3a3a" stroke-width="1"/>
<text x="314.3" y="122.55" font-size="7.5" text-anchor="end" font-weight="normal" >10</text>
<line x1="318.5" y1="86.45" x2="322" y2="86.45" stroke="#3a3a3a" stroke-width="1"/>
<line x1="547.5" y1="86.45" x2="544" y2="86.45" stroke="#3a3a3a" stroke-width="1"/>
<text x="314.3" y="89" font-size="7.5" text-anchor="end" font-weight="normal" >15</text>
<line x1="318.5" y1="52.9" x2="322" y2="52.9" stroke="#3a3a3a" stroke-width="1"/>
<line x1="547.5" y1="52.9" x2="544" y2="52.9" stroke="#3a3a3a" stroke-width="1"/>
<text x="314.3" y="55.45" font-size="7.5" text-anchor="end" font-weight="normal" >20</text>
<line x1="318.5" y1="19.35" x2="322" y2="19.35" stroke="#3a3a3a" stroke-width="1"/>
<line x1="547.5" y1="19.35" x2="544" y2="19.35" stroke="#3a3a3a" stroke-width="1"/>
<text x="314.3" y="21.9" font-size="7.5" text-anchor="end" font-weight="normal" >25</text>
<line x1="460" y1="18.4" x2="478.6" y2="18.4" stroke="#858585" stroke-width="1.6"/>
<rect x="468.1" y="17.2" width="2.4" height="2.4" fill="#000"/>
<text x="479.3" y="21.2" font-size="8.2" text-anchor="start" font-weight="normal" >Upper perforation</text>
<line x1="460" y1="27.4" x2="478.6" y2="27.4" stroke="#ff0000" stroke-width="1.2"/>
<circle cx="469.3" cy="27.4" r="1.4" fill="#ff0000"/>
<text x="479.3" y="30.6" font-size="8.2" text-anchor="start" font-weight="normal" >Middle perforation</text>
<line x1="460" y1="37" x2="478.6" y2="37" stroke="#00ff00" stroke-width="1.3"/>
<path d="M469.3 35.3l1.5 2.6h-3z" fill="#00ff00"/>
<text x="479.3" y="40.2" font-size="8.2" text-anchor="start" font-weight="normal" >Lower perforation</text>
<text x="346.9" y="44.7" font-size="9.55" text-anchor="start" font-weight="normal" >24.12 MPa</text>
<line x1="389.5" y1="41" x2="407.11" y2="27.71" stroke="#222" stroke-width="0.8"/>
<polygon points="410.3,25.3 408.07,28.99 406.14,26.43" fill="#222"/>
<text x="348.2" y="65.9" font-size="9.55" text-anchor="start" font-weight="normal" >20.14 MPa</text>
<line x1="391" y1="62" x2="402.49" y2="54.24" stroke="#222" stroke-width="0.8"/>
<polygon points="405.8,52 403.38,55.57 401.59,52.91" fill="#222"/>
<text x="434.5" y="76.8" font-size="9.55" text-anchor="start" font-weight="normal" >19.65 MPa</text>
<line x1="432.7" y1="70.9" x2="415.68" y2="57.93" stroke="#222" stroke-width="0.8"/>
<polygon points="412.5,55.5 416.65,56.65 414.71,59.2" fill="#222"/>
<text x="0" y="0" font-size="10.2" text-anchor="middle" transform="translate(305.36,97.2) rotate(-90)">Injection pressure/MPa</text>
<text x="422.7" y="208.8" font-size="9.4" text-anchor="middle" font-weight="normal" >Time/s</text>
<text x="419" y="223.4" font-size="12" text-anchor="middle">(<tspan font-weight="bold">d</tspan>) 4<tspan font-size="6" dy="-4.6">#</tspan><tspan dy="3.6" font-size="9.5">&#8202;&#8212;</tspan><tspan dy="1">40 mm</tspan></text>
<polyline points="22.6,409.6 41.8,407.5 63.6,403.1 81.1,400.3 92,398.7 98.5,396.1 111.6,392.2 125,390.7 129.8,387.8 133.7,384.9 137,382 138.5,374.3 140.4,366.6 141.9,360.8 143.3,352.2 144.8,342.5 146.2,335.8 148.1,330 151.8,308.4 155.1,286 157.9,323.6 160.5,336.7 162.7,345.5 164.5,358.6 167.1,374.9 199.8,376 223.8,378.2" fill="none" stroke="#000000" stroke-width="1.0" stroke-linejoin="round" stroke-linecap="round"/>
<path d="M22.6 409.6h0M23.9 409.46h0M25.2 409.32h0M26.5 409.17h0M27.8 409.03h0M29.1 408.89h0M30.4 408.75h0M31.7 408.6h0M33 408.46h0M34.3 408.32h0M35.6 408.18h0M36.9 408.04h0M38.2 407.89h0M39.5 407.75h0M40.8 407.61h0M42.1 407.44h0M43.4 407.18h0M44.7 406.91h0M46 406.65h0M47.3 406.39h0M48.6 406.13h0M49.9 405.87h0M51.2 405.6h0M52.5 405.34h0M53.8 405.08h0M55.1 404.82h0M56.4 404.55h0M57.7 404.29h0M59 404.03h0M60.3 403.77h0M61.6 403.5h0M62.9 403.24h0M64.2 403h0M65.5 402.8h0M66.8 402.59h0M68.1 402.38h0M69.4 402.17h0M70.7 401.96h0M72 401.76h0M73.3 401.55h0M74.6 401.34h0M75.9 401.13h0M77.2 400.92h0M78.5 400.72h0M79.8 400.51h0M81.1 400.3h0M82.4 400.11h0M83.7 399.92h0M85 399.73h0M86.3 399.54h0M87.6 399.35h0M88.9 399.16h0M90.2 398.96h0M91.5 398.77h0M92.8 398.38h0M94.1 397.86h0M95.4 397.34h0M96.7 396.82h0M98 396.3h0M99.3 395.86h0M100.6 395.47h0M101.9 395.09h0M103.2 394.7h0M104.5 394.31h0M105.8 393.93h0M107.1 393.54h0M108.4 393.15h0M109.7 392.77h0M111 392.38h0M112.3 392.12h0M113.6 391.98h0M114.9 391.83h0M116.2 391.69h0M117.5 391.54h0M118.8 391.39h0M120.1 391.25h0M121.4 391.1h0M122.7 390.96h0M124 390.81h0M125.3 390.52h0M126.6 389.73h0M127.9 388.95h0M129.2 388.16h0M130.5 387.28h0M131.8 386.31h0M133.1 385.35h0M134.4 384.28h0M135.7 383.14h0M137 382h0M138.3 375.33h0M139.6 369.84h0M140.9 364.67h0M142.2 358.96h0M143.5 350.91h0M144.8 342.5h0M146.1 336.28h0M147.4 332.14h0M148.7 326.5h0M150 318.91h0M151.3 311.32h0M152.6 302.97h0M153.9 294.15h0M155.2 287.34h0M156.5 304.8h0M157.8 322.26h0M159.1 329.65h0M160.4 336.2h0M161.7 341.5h0M163 347.68h0M164.3 357.14h0M165.6 365.5h0M166.9 373.65h0M168.2 374.94h0M169.5 374.98h0M170.8 375.02h0M172.1 375.07h0M173.4 375.11h0M174.7 375.16h0M176 375.2h0M177.3 375.24h0M178.6 375.29h0M179.9 375.33h0M181.2 375.37h0M182.5 375.42h0M183.8 375.46h0M185.1 375.51h0M186.4 375.55h0M187.7 375.59h0M189 375.64h0M190.3 375.68h0M191.6 375.72h0M192.9 375.77h0M194.2 375.81h0M195.5 375.86h0M196.8 375.9h0M198.1 375.94h0M199.4 375.99h0M200.7 376.08h0M202 376.2h0M203.3 376.32h0M204.6 376.44h0M205.9 376.56h0M207.2 376.68h0M208.5 376.8h0M209.8 376.92h0M211.1 377.04h0M212.4 377.16h0M213.7 377.27h0M215 377.39h0M216.3 377.51h0M217.6 377.63h0M218.9 377.75h0M220.2 377.87h0M221.5 377.99h0M222.8 378.11h0" fill="none" stroke="#000000" stroke-width="2.0" stroke-linecap="square"/>
<polyline points="22.6,409.6 45,409.6 55,408 63.6,405.3 72.4,403.1 85.5,400.9 111.6,399.8 122.6,397.6 131.3,394.4 134.6,391.7 137.5,387.8 139.5,381.1 140.9,374.3 142.3,366.6 143.8,358.9 144.8,352.2 145.7,345.4 147.2,337.7 149.1,330 150.3,318 152,305 154.5,286.4 157.8,256.4 160.5,293.1 164.9,323.6 168.2,329.1 170.4,337.8 174.7,342.2 181.3,347.6 183.5,346.5 186.7,349.8 188.9,364 192.2,381.5 223.8,382.1" fill="none" stroke="#ff0000" stroke-width="1.0" stroke-linejoin="round" stroke-linecap="round"/>
<path d="M22.6 409.6h0M23.9 409.6h0M25.2 409.6h0M26.5 409.6h0M27.8 409.6h0M29.1 409.6h0M30.4 409.6h0M31.7 409.6h0M33 409.6h0M34.3 409.6h0M35.6 409.6h0M36.9 409.6h0M38.2 409.6h0M39.5 409.6h0M40.8 409.6h0M42.1 409.6h0M43.4 409.6h0M44.7 409.6h0M46 409.44h0M47.3 409.23h0M48.6 409.02h0M49.9 408.82h0M51.2 408.61h0M52.5 408.4h0M53.8 408.19h0M55.1 407.97h0M56.4 407.56h0M57.7 407.15h0M59 406.74h0M60.3 406.34h0M61.6 405.93h0M62.9 405.52h0M64.2 405.15h0M65.5 404.83h0M66.8 404.5h0M68.1 404.18h0M69.4 403.85h0M70.7 403.53h0M72 403.2h0M73.3 402.95h0M74.6 402.73h0M75.9 402.51h0M77.2 402.29h0M78.5 402.08h0M79.8 401.86h0M81.1 401.64h0M82.4 401.42h0M83.7 401.2h0M85 400.98h0M86.3 400.87h0M87.6 400.81h0M88.9 400.76h0M90.2 400.7h0M91.5 400.65h0M92.8 400.59h0M94.1 400.54h0M95.4 400.48h0M96.7 400.43h0M98 400.37h0M99.3 400.32h0M100.6 400.26h0M101.9 400.21h0M103.2 400.15h0M104.5 400.1h0M105.8 400.04h0M107.1 399.99h0M108.4 399.93h0M109.7 399.88h0M111 399.83h0M112.3 399.66h0M113.6 399.4h0M114.9 399.14h0M116.2 398.88h0M117.5 398.62h0M118.8 398.36h0M120.1 398.1h0M121.4 397.84h0M122.7 397.56h0M124 397.09h0M125.3 396.61h0M126.6 396.13h0M127.9 395.65h0M129.2 395.17h0M130.5 394.69h0M131.8 393.99h0M133.1 392.93h0M134.4 391.86h0M135.7 390.22h0M137 388.47h0M138.3 385.12h0M139.6 380.61h0M140.9 374.3h0M142.2 367.15h0M143.5 360.44h0M144.8 352.2h0M146.1 343.35h0M147.4 336.89h0M148.7 331.62h0M150 321h0M151.3 310.35h0M152.6 300.54h0M153.9 290.86h0M155.2 280.04h0M156.5 268.22h0M157.8 256.4h0M159.1 274.07h0M160.4 291.74h0M161.7 301.42h0M163 310.43h0M164.3 319.44h0M165.6 324.77h0M166.9 326.93h0M168.2 329.1h0M169.5 334.24h0M170.8 338.21h0M172.1 339.54h0M173.4 340.87h0M174.7 342.2h0M176 343.26h0M177.3 344.33h0M178.6 345.39h0M179.9 346.45h0M181.2 347.52h0M182.5 347h0M183.8 346.81h0M185.1 348.15h0M186.4 349.49h0M187.7 356.25h0M189 364.53h0M190.3 371.42h0M191.6 378.32h0M192.9 381.51h0M194.2 381.54h0M195.5 381.56h0M196.8 381.59h0M198.1 381.61h0M199.4 381.64h0M200.7 381.66h0M202 381.69h0M203.3 381.71h0M204.6 381.74h0M205.9 381.76h0M207.2 381.78h0M208.5 381.81h0M209.8 381.83h0M211.1 381.86h0M212.4 381.88h0M213.7 381.91h0M215 381.93h0M216.3 381.96h0M217.6 381.98h0M218.9 382.01h0M220.2 382.03h0M221.5 382.06h0M222.8 382.08h0" fill="none" stroke="#ff0000" stroke-width="2.4" stroke-linecap="round"/>
<polyline points="22.6,409.6 41.8,407.9 59.3,405.3 85.5,405.9 102.9,404.2 118.2,400.9 125,397.5 130.8,394.6 135.6,391.7 137.5,384 139,373.4 139.9,364.7 140.9,356 142.3,339.6 143.8,330 145.3,306.2 148.5,281.1 151.8,301.8 154.4,330 155.8,342.5 157.3,354.1 158.3,362.8 159.2,365 192.2,364.5 194.4,366.8 223.8,366.8" fill="none" stroke="#00ff00" stroke-width="1.0" stroke-linejoin="round" stroke-linecap="round"/>
<path d="M22.6 407.9l1.5 2.6h-3zM23.9 407.78l1.5 2.6h-3zM25.2 407.67l1.5 2.6h-3zM26.5 407.55l1.5 2.6h-3zM27.8 407.44l1.5 2.6h-3zM29.1 407.32l1.5 2.6h-3zM30.4 407.21l1.5 2.6h-3zM31.7 407.09l1.5 2.6h-3zM33 406.98l1.5 2.6h-3zM34.3 406.86l1.5 2.6h-3zM35.6 406.75l1.5 2.6h-3zM36.9 406.63l1.5 2.6h-3zM38.2 406.52l1.5 2.6h-3zM39.5 406.4l1.5 2.6h-3zM40.8 406.29l1.5 2.6h-3zM42.1 406.16l1.5 2.6h-3zM43.4 405.96l1.5 2.6h-3zM44.7 405.77l1.5 2.6h-3zM46 405.58l1.5 2.6h-3zM47.3 405.38l1.5 2.6h-3zM48.6 405.19l1.5 2.6h-3zM49.9 405l1.5 2.6h-3zM51.2 404.8l1.5 2.6h-3zM52.5 404.61l1.5 2.6h-3zM53.8 404.42l1.5 2.6h-3zM55.1 404.22l1.5 2.6h-3zM56.4 404.03l1.5 2.6h-3zM57.7 403.84l1.5 2.6h-3zM59 403.64l1.5 2.6h-3zM60.3 403.62l1.5 2.6h-3zM61.6 403.65l1.5 2.6h-3zM62.9 403.68l1.5 2.6h-3zM64.2 403.71l1.5 2.6h-3zM65.5 403.74l1.5 2.6h-3zM66.8 403.77l1.5 2.6h-3zM68.1 403.8l1.5 2.6h-3zM69.4 403.83l1.5 2.6h-3zM70.7 403.86l1.5 2.6h-3zM72 403.89l1.5 2.6h-3zM73.3 403.92l1.5 2.6h-3zM74.6 403.95l1.5 2.6h-3zM75.9 403.98l1.5 2.6h-3zM77.2 404.01l1.5 2.6h-3zM78.5 404.04l1.5 2.6h-3zM79.8 404.07l1.5 2.6h-3zM81.1 404.1l1.5 2.6h-3zM82.4 404.13l1.5 2.6h-3zM83.7 404.16l1.5 2.6h-3zM85 404.19l1.5 2.6h-3zM86.3 404.12l1.5 2.6h-3zM87.6 403.99l1.5 2.6h-3zM88.9 403.87l1.5 2.6h-3zM90.2 403.74l1.5 2.6h-3zM91.5 403.61l1.5 2.6h-3zM92.8 403.49l1.5 2.6h-3zM94.1 403.36l1.5 2.6h-3zM95.4 403.23l1.5 2.6h-3zM96.7 403.11l1.5 2.6h-3zM98 402.98l1.5 2.6h-3zM99.3 402.85l1.5 2.6h-3zM100.6 402.72l1.5 2.6h-3zM101.9 402.6l1.5 2.6h-3zM103.2 402.44l1.5 2.6h-3zM104.5 402.15l1.5 2.6h-3zM105.8 401.87l1.5 2.6h-3zM107.1 401.59l1.5 2.6h-3zM108.4 401.31l1.5 2.6h-3zM109.7 401.03l1.5 2.6h-3zM111 400.75l1.5 2.6h-3zM112.3 400.47l1.5 2.6h-3zM113.6 400.19l1.5 2.6h-3zM114.9 399.91l1.5 2.6h-3zM116.2 399.63l1.5 2.6h-3zM117.5 399.35l1.5 2.6h-3zM118.8 398.9l1.5 2.6h-3zM120.1 398.25l1.5 2.6h-3zM121.4 397.6l1.5 2.6h-3zM122.7 396.95l1.5 2.6h-3zM124 396.3l1.5 2.6h-3zM125.3 395.65l1.5 2.6h-3zM126.6 395l1.5 2.6h-3zM127.9 394.35l1.5 2.6h-3zM129.2 393.7l1.5 2.6h-3zM130.5 393.05l1.5 2.6h-3zM131.8 392.3l1.5 2.6h-3zM133.1 391.51l1.5 2.6h-3zM134.4 390.73l1.5 2.6h-3zM135.7 389.59l1.5 2.6h-3zM137 384.33l1.5 2.6h-3zM138.3 376.65l1.5 2.6h-3zM139.6 365.9l1.5 2.6h-3zM140.9 354.3l1.5 2.6h-3zM142.2 339.07l1.5 2.6h-3zM143.5 330.22l1.5 2.6h-3zM144.8 312.43l1.5 2.6h-3zM146.1 298.23l1.5 2.6h-3zM147.4 288.03l1.5 2.6h-3zM148.7 280.65l1.5 2.6h-3zM150 288.81l1.5 2.6h-3zM151.3 296.96l1.5 2.6h-3zM152.6 308.78l1.5 2.6h-3zM153.9 322.88l1.5 2.6h-3zM155.2 335.44l1.5 2.6h-3zM156.5 346.21l1.5 2.6h-3zM157.8 356.75l1.5 2.6h-3zM159.1 363.06l1.5 2.6h-3zM160.4 363.28l1.5 2.6h-3zM161.7 363.26l1.5 2.6h-3zM163 363.24l1.5 2.6h-3zM164.3 363.22l1.5 2.6h-3zM165.6 363.2l1.5 2.6h-3zM166.9 363.18l1.5 2.6h-3zM168.2 363.16l1.5 2.6h-3zM169.5 363.14l1.5 2.6h-3zM170.8 363.12l1.5 2.6h-3zM172.1 363.1l1.5 2.6h-3zM173.4 363.08l1.5 2.6h-3zM174.7 363.07l1.5 2.6h-3zM176 363.05l1.5 2.6h-3zM177.3 363.03l1.5 2.6h-3zM178.6 363.01l1.5 2.6h-3zM179.9 362.99l1.5 2.6h-3zM181.2 362.97l1.5 2.6h-3zM182.5 362.95l1.5 2.6h-3zM183.8 362.93l1.5 2.6h-3zM185.1 362.91l1.5 2.6h-3zM186.4 362.89l1.5 2.6h-3zM187.7 362.87l1.5 2.6h-3zM189 362.85l1.5 2.6h-3zM190.3 362.83l1.5 2.6h-3zM191.6 362.81l1.5 2.6h-3zM192.9 363.53l1.5 2.6h-3zM194.2 364.89l1.5 2.6h-3zM195.5 365.1l1.5 2.6h-3zM196.8 365.1l1.5 2.6h-3zM198.1 365.1l1.5 2.6h-3zM199.4 365.1l1.5 2.6h-3zM200.7 365.1l1.5 2.6h-3zM202 365.1l1.5 2.6h-3zM203.3 365.1l1.5 2.6h-3zM204.6 365.1l1.5 2.6h-3zM205.9 365.1l1.5 2.6h-3zM207.2 365.1l1.5 2.6h-3zM208.5 365.1l1.5 2.6h-3zM209.8 365.1l1.5 2.6h-3zM211.1 365.1l1.5 2.6h-3zM212.4 365.1l1.5 2.6h-3zM213.7 365.1l1.5 2.6h-3zM215 365.1l1.5 2.6h-3zM216.3 365.1l1.5 2.6h-3zM217.6 365.1l1.5 2.6h-3zM218.9 365.1l1.5 2.6h-3zM220.2 365.1l1.5 2.6h-3zM221.5 365.1l1.5 2.6h-3zM222.8 365.1l1.5 2.6h-3z" fill="#00ff00" stroke="none"/>
<rect x="22.6" y="230.4" width="223.9" height="179.4" fill="none" stroke="#3a3a3a" stroke-width="1.3"/>
<line x1="22.4" y1="409.8" x2="22.4" y2="406.3" stroke="#3a3a3a" stroke-width="1"/>
<line x1="22.4" y1="230.4" x2="22.4" y2="233.9" stroke="#3a3a3a" stroke-width="1"/>
<text x="22.4" y="419.7" font-size="7.5" text-anchor="middle" font-weight="normal" >0</text>
<line x1="47.18" y1="409.8" x2="47.18" y2="406.3" stroke="#3a3a3a" stroke-width="1"/>
<line x1="47.18" y1="230.4" x2="47.18" y2="233.9" stroke="#3a3a3a" stroke-width="1"/>
<text x="47.18" y="419.7" font-size="7.5" text-anchor="middle" font-weight="normal" >20</text>
<line x1="71.96" y1="409.8" x2="71.96" y2="406.3" stroke="#3a3a3a" stroke-width="1"/>
<line x1="71.96" y1="230.4" x2="71.96" y2="233.9" stroke="#3a3a3a" stroke-width="1"/>
<text x="71.96" y="419.7" font-size="7.5" text-anchor="middle" font-weight="normal" >40</text>
<line x1="96.74" y1="409.8" x2="96.74" y2="406.3" stroke="#3a3a3a" stroke-width="1"/>
<line x1="96.74" y1="230.4" x2="96.74" y2="233.9" stroke="#3a3a3a" stroke-width="1"/>
<text x="96.74" y="419.7" font-size="7.5" text-anchor="middle" font-weight="normal" >60</text>
<line x1="121.52" y1="409.8" x2="121.52" y2="406.3" stroke="#3a3a3a" stroke-width="1"/>
<line x1="121.52" y1="230.4" x2="121.52" y2="233.9" stroke="#3a3a3a" stroke-width="1"/>
<text x="121.52" y="419.7" font-size="7.5" text-anchor="middle" font-weight="normal" >80</text>
<line x1="146.3" y1="409.8" x2="146.3" y2="406.3" stroke="#3a3a3a" stroke-width="1"/>
<line x1="146.3" y1="230.4" x2="146.3" y2="233.9" stroke="#3a3a3a" stroke-width="1"/>
<text x="146.3" y="419.7" font-size="7.5" text-anchor="middle" font-weight="normal" >100</text>
<line x1="171.08" y1="409.8" x2="171.08" y2="406.3" stroke="#3a3a3a" stroke-width="1"/>
<line x1="171.08" y1="230.4" x2="171.08" y2="233.9" stroke="#3a3a3a" stroke-width="1"/>
<text x="171.08" y="419.7" font-size="7.5" text-anchor="middle" font-weight="normal" >120</text>
<line x1="195.86" y1="409.8" x2="195.86" y2="406.3" stroke="#3a3a3a" stroke-width="1"/>
<line x1="195.86" y1="230.4" x2="195.86" y2="233.9" stroke="#3a3a3a" stroke-width="1"/>
<text x="195.86" y="419.7" font-size="7.5" text-anchor="middle" font-weight="normal" >140</text>
<line x1="220.64" y1="409.8" x2="220.64" y2="406.3" stroke="#3a3a3a" stroke-width="1"/>
<line x1="220.64" y1="230.4" x2="220.64" y2="233.9" stroke="#3a3a3a" stroke-width="1"/>
<text x="220.64" y="419.7" font-size="7.5" text-anchor="middle" font-weight="normal" >160</text>
<line x1="245.42" y1="409.8" x2="245.42" y2="406.3" stroke="#3a3a3a" stroke-width="1"/>
<line x1="245.42" y1="230.4" x2="245.42" y2="233.9" stroke="#3a3a3a" stroke-width="1"/>
<text x="245.42" y="419.7" font-size="7.5" text-anchor="middle" font-weight="normal" >180</text>
<line x1="22.6" y1="409.8" x2="26.1" y2="409.8" stroke="#3a3a3a" stroke-width="1"/>
<line x1="246.5" y1="409.8" x2="243" y2="409.8" stroke="#3a3a3a" stroke-width="1"/>
<text x="18.4" y="412.35" font-size="7.5" text-anchor="end" font-weight="normal" >0</text>
<line x1="22.6" y1="377.12" x2="26.1" y2="377.12" stroke="#3a3a3a" stroke-width="1"/>
<line x1="246.5" y1="377.12" x2="243" y2="377.12" stroke="#3a3a3a" stroke-width="1"/>
<text x="18.4" y="379.67" font-size="7.5" text-anchor="end" font-weight="normal" >5</text>
<line x1="22.6" y1="344.44" x2="26.1" y2="344.44" stroke="#3a3a3a" stroke-width="1"/>
<line x1="246.5" y1="344.44" x2="243" y2="344.44" stroke="#3a3a3a" stroke-width="1"/>
<text x="18.4" y="346.99" font-size="7.5" text-anchor="end" font-weight="normal" >10</text>
<line x1="22.6" y1="311.76" x2="26.1" y2="311.76" stroke="#3a3a3a" stroke-width="1"/>
<line x1="246.5" y1="311.76" x2="243" y2="311.76" stroke="#3a3a3a" stroke-width="1"/>
<text x="18.4" y="314.31" font-size="7.5" text-anchor="end" font-weight="normal" >15</text>
<line x1="22.6" y1="279.08" x2="26.1" y2="279.08" stroke="#3a3a3a" stroke-width="1"/>
<line x1="246.5" y1="279.08" x2="243" y2="279.08" stroke="#3a3a3a" stroke-width="1"/>
<text x="18.4" y="281.63" font-size="7.5" text-anchor="end" font-weight="normal" >20</text>
<line x1="22.6" y1="246.4" x2="26.1" y2="246.4" stroke="#3a3a3a" stroke-width="1"/>
<line x1="246.5" y1="246.4" x2="243" y2="246.4" stroke="#3a3a3a" stroke-width="1"/>
<text x="18.4" y="248.95" font-size="7.5" text-anchor="end" font-weight="normal" >25</text>
<line x1="164" y1="242.8" x2="182.6" y2="242.8" stroke="#858585" stroke-width="1.6"/>
<rect x="172.1" y="241.6" width="2.4" height="2.4" fill="#000"/>
<text x="183" y="245.6" font-size="7.95" text-anchor="start" font-weight="normal" >Upper perforation</text>
<line x1="164" y1="252" x2="182.6" y2="252" stroke="#ff0000" stroke-width="1.2"/>
<circle cx="173.3" cy="252" r="1.4" fill="#ff0000"/>
<text x="183" y="255.2" font-size="7.95" text-anchor="start" font-weight="normal" >Middle perforation</text>
<line x1="164" y1="262" x2="182.6" y2="262" stroke="#00ff00" stroke-width="1.3"/>
<path d="M173.3 260.3l1.5 2.6h-3z" fill="#00ff00"/>
<text x="183" y="265.2" font-size="7.95" text-anchor="start" font-weight="normal" >Lower perforation</text>
<text x="85.5" y="276.5" font-size="9.35" text-anchor="start" font-weight="normal" >23.44 MPa</text>
<line x1="127" y1="271" x2="153.58" y2="258.5" stroke="#222" stroke-width="0.8"/>
<polygon points="157.2,256.8 154.26,259.95 152.9,257.05" fill="#222"/>
<text x="85.5" y="298.7" font-size="9.35" text-anchor="start" font-weight="normal" >19.65 MPa</text>
<line x1="127" y1="294" x2="144.46" y2="283.64" stroke="#222" stroke-width="0.8"/>
<polygon points="147.9,281.6 145.28,285.02 143.64,282.26" fill="#222"/>
<text x="181.3" y="304.4" font-size="9.35" text-anchor="start" font-weight="normal" >19.01 MPa</text>
<line x1="179.1" y1="300.3" x2="158.84" y2="288.33" stroke="#222" stroke-width="0.8"/>
<polygon points="155.4,286.3 159.66,286.96 158.03,289.71" fill="#222"/>
<text x="0" y="0" font-size="9.9" text-anchor="middle" transform="translate(8.77,320.7) rotate(-90)">Injection pressure/MPa</text>
<text x="130" y="431.5" font-size="9.4" text-anchor="middle" font-weight="normal" >Time/s</text>
<text x="125.9" y="449.8" font-size="12" text-anchor="middle">(<tspan font-weight="normal">e</tspan>) 5<tspan font-size="6" dy="-4.6">#</tspan><tspan dy="3.6" font-size="9.5">&#8202;&#8212;</tspan><tspan dy="1">50 mm</tspan></text>
<polyline points="316.2,410.5 360,410 380,407 388.2,402.4 391.7,398.9 394.5,390.4 397.3,379.2 400.8,366.5 403.7,359.4 405.1,349.6 406.2,339.7 407.6,323.6 410,303.6 411.8,285.5 414.2,261.8 416.4,276.4 420,300 424.5,314.5 428.3,326 433,337.8 434.7,347.3 436.5,353.2 437.7,350.1 487.4,350.1 489.7,361.5 490.9,380.4 495.7,392.2 505.1,396.9 516.9,399.3" fill="none" stroke="#000000" stroke-width="1.0" stroke-linejoin="round" stroke-linecap="round"/>
<path d="M316.2 410.5h0M317.5 410.49h0M318.8 410.47h0M320.1 410.46h0M321.4 410.44h0M322.7 410.43h0M324 410.41h0M325.3 410.4h0M326.6 410.38h0M327.9 410.37h0M329.2 410.35h0M330.5 410.34h0M331.8 410.32h0M333.1 410.31h0M334.4 410.29h0M335.7 410.28h0M337 410.26h0M338.3 410.25h0M339.6 410.23h0M340.9 410.22h0M342.2 410.2h0M343.5 410.19h0M344.8 410.17h0M346.1 410.16h0M347.4 410.14h0M348.7 410.13h0M350 410.11h0M351.3 410.1h0M352.6 410.08h0M353.9 410.07h0M355.2 410.05h0M356.5 410.04h0M357.8 410.03h0M359.1 410.01h0M360.4 409.94h0M361.7 409.74h0M363 409.55h0M364.3 409.35h0M365.6 409.16h0M366.9 408.96h0M368.2 408.77h0M369.5 408.57h0M370.8 408.38h0M372.1 408.18h0M373.4 407.99h0M374.7 407.79h0M376 407.6h0M377.3 407.4h0M378.6 407.21h0M379.9 407.01h0M381.2 406.33h0M382.5 405.6h0M383.8 404.87h0M385.1 404.14h0M386.4 403.41h0M387.7 402.68h0M389 401.6h0M390.3 400.3h0M391.6 399h0M392.9 395.26h0M394.2 391.31h0M395.5 386.4h0M396.8 381.2h0M398.1 376.3h0M399.4 371.58h0M400.7 366.86h0M402 363.56h0M403.3 360.38h0M404.6 353.1h0M405.9 342.4h0M407.2 328.2h0M408.5 316.1h0M409.8 305.27h0M411.1 292.54h0M412.4 279.57h0M413.7 266.74h0M415 267.11h0M416.3 275.74h0M417.6 284.27h0M418.9 292.79h0M420.2 300.64h0M421.5 304.83h0M422.8 309.02h0M424.1 313.21h0M425.4 317.22h0M426.7 321.16h0M428 325.09h0M429.3 328.51h0M430.6 331.77h0M431.9 335.04h0M433.2 338.92h0M434.5 346.18h0M435.8 350.91h0M437.1 351.65h0M438.4 350.1h0M439.7 350.1h0M441 350.1h0M442.3 350.1h0M443.6 350.1h0M444.9 350.1h0M446.2 350.1h0M447.5 350.1h0M448.8 350.1h0M450.1 350.1h0M451.4 350.1h0M452.7 350.1h0M454 350.1h0M455.3 350.1h0M456.6 350.1h0M457.9 350.1h0M459.2 350.1h0M460.5 350.1h0M461.8 350.1h0M463.1 350.1h0M464.4 350.1h0M465.7 350.1h0M467 350.1h0M468.3 350.1h0M469.6 350.1h0M470.9 350.1h0M472.2 350.1h0M473.5 350.1h0M474.8 350.1h0M476.1 350.1h0M477.4 350.1h0M478.7 350.1h0M480 350.1h0M481.3 350.1h0M482.6 350.1h0M483.9 350.1h0M485.2 350.1h0M486.5 350.1h0M487.8 352.08h0M489.1 358.53h0M490.4 372.53h0M491.7 382.37h0M493 385.56h0M494.3 388.76h0M495.6 391.95h0M496.9 392.8h0M498.2 393.45h0M499.5 394.1h0M500.8 394.75h0M502.1 395.4h0M503.4 396.05h0M504.7 396.7h0M506 397.08h0M507.3 397.35h0M508.6 397.61h0M509.9 397.88h0M511.2 398.14h0M512.5 398.41h0M513.8 398.67h0M515.1 398.93h0M516.4 399.2h0" fill="none" stroke="#000000" stroke-width="2.0" stroke-linecap="square"/>
<polyline points="316.2,410.5 370,410.3 381.1,408.7 392.4,404.5 398,398.9 400.8,391.8 403,382 405.1,373.5 407.9,365.1 410.7,358 412.1,345.4 413.5,332.7 414.9,321.4 416,298.2 417.8,281.8 420,250 421.3,261.3 422.9,274.4 426.2,289 429.5,295.6 432.7,302.1 436.8,310.3 440.1,318.4 444.2,326.6 448.2,334.7 452.3,342.9 453.9,344.5 455,342.6 495.2,342.6 495.7,367.4 501.6,372.1 509.8,379.2 516.9,380.4" fill="none" stroke="#ff0000" stroke-width="1.0" stroke-linejoin="round" stroke-linecap="round"/>
<path d="M316.2 410.5h0M317.5 410.5h0M318.8 410.49h0M320.1 410.49h0M321.4 410.48h0M322.7 410.48h0M324 410.47h0M325.3 410.47h0M326.6 410.46h0M327.9 410.46h0M329.2 410.45h0M330.5 410.45h0M331.8 410.44h0M333.1 410.44h0M334.4 410.43h0M335.7 410.43h0M337 410.42h0M338.3 410.42h0M339.6 410.41h0M340.9 410.41h0M342.2 410.4h0M343.5 410.4h0M344.8 410.39h0M346.1 410.39h0M347.4 410.38h0M348.7 410.38h0M350 410.37h0M351.3 410.37h0M352.6 410.36h0M353.9 410.36h0M355.2 410.36h0M356.5 410.35h0M357.8 410.35h0M359.1 410.34h0M360.4 410.34h0M361.7 410.33h0M363 410.33h0M364.3 410.32h0M365.6 410.32h0M366.9 410.31h0M368.2 410.31h0M369.5 410.3h0M370.8 410.18h0M372.1 410h0M373.4 409.81h0M374.7 409.62h0M376 409.44h0M377.3 409.25h0M378.6 409.06h0M379.9 408.87h0M381.2 408.66h0M382.5 408.18h0M383.8 407.7h0M385.1 407.21h0M386.4 406.73h0M387.7 406.25h0M389 405.76h0M390.3 405.28h0M391.6 404.8h0M392.9 404h0M394.2 402.7h0M395.5 401.4h0M396.8 400.1h0M398.1 398.65h0M399.4 395.35h0M400.7 392.05h0M402 386.45h0M403.3 380.79h0M404.6 375.52h0M405.9 371.1h0M407.2 367.2h0M408.5 363.58h0M409.8 360.28h0M411.1 354.4h0M412.4 342.68h0M413.7 331.09h0M415 319.29h0M416.3 295.47h0M417.6 283.62h0M418.9 265.9h0M420.2 251.74h0M421.5 262.94h0M422.8 273.58h0M424.1 279.71h0M425.4 285.46h0M426.7 290h0M428 292.6h0M429.3 295.2h0M430.6 297.83h0M431.9 300.48h0M433.2 303.1h0M434.5 305.7h0M435.8 308.3h0M437.1 311.04h0M438.4 314.23h0M439.7 317.42h0M441 320.2h0M442.3 322.8h0M443.6 325.4h0M444.9 328.02h0M446.2 330.65h0M447.5 333.28h0M448.8 335.9h0M450.1 338.5h0M451.4 341.1h0M452.7 343.3h0M454 344.33h0M455.3 342.6h0M456.6 342.6h0M457.9 342.6h0M459.2 342.6h0M460.5 342.6h0M461.8 342.6h0M463.1 342.6h0M464.4 342.6h0M465.7 342.6h0M467 342.6h0M468.3 342.6h0M469.6 342.6h0M470.9 342.6h0M472.2 342.6h0M473.5 342.6h0M474.8 342.6h0M476.1 342.6h0M477.4 342.6h0M478.7 342.6h0M480 342.6h0M481.3 342.6h0M482.6 342.6h0M483.9 342.6h0M485.2 342.6h0M486.5 342.6h0M487.8 342.6h0M489.1 342.6h0M490.4 342.6h0M491.7 342.6h0M493 342.6h0M494.3 342.6h0M495.6 362.44h0M496.9 368.36h0M498.2 369.39h0M499.5 370.43h0M500.8 371.46h0M502.1 372.53h0M503.4 373.66h0M504.7 374.78h0M506 375.91h0M507.3 377.04h0M508.6 378.16h0M509.9 379.22h0M511.2 379.44h0M512.5 379.66h0M513.8 379.88h0M515.1 380.1h0M516.4 380.32h0" fill="none" stroke="#ff0000" stroke-width="2.4" stroke-linecap="round"/>
<polyline points="316.2,410.5 340,410 360,409.4 381.1,404.5 390.3,401.7 393.1,390.4 395.9,372.1 398,359.4 400.1,348.2 402.3,338.3 404.5,316.4 406.4,298.2 408.2,276.4 410.5,260 412.7,276.4 416.4,292.7 420,309 422.7,316.4 424,321 427.1,324.5 429.1,325.5 436.4,329.1 445.5,331 454.3,330.7 461.4,337.8 474.4,343.7 487.4,349.6 489.7,354.4 492.1,366.2 495.7,372.1 501.6,375.7 509.8,376.8 516.9,376.1" fill="none" stroke="#00ff00" stroke-width="1.0" stroke-linejoin="round" stroke-linecap="round"/>
<path d="M316.2 408.8l1.5 2.6h-3zM317.5 408.77l1.5 2.6h-3zM318.8 408.75l1.5 2.6h-3zM320.1 408.72l1.5 2.6h-3zM321.4 408.69l1.5 2.6h-3zM322.7 408.66l1.5 2.6h-3zM324 408.64l1.5 2.6h-3zM325.3 408.61l1.5 2.6h-3zM326.6 408.58l1.5 2.6h-3zM327.9 408.55l1.5 2.6h-3zM329.2 408.53l1.5 2.6h-3zM330.5 408.5l1.5 2.6h-3zM331.8 408.47l1.5 2.6h-3zM333.1 408.44l1.5 2.6h-3zM334.4 408.42l1.5 2.6h-3zM335.7 408.39l1.5 2.6h-3zM337 408.36l1.5 2.6h-3zM338.3 408.34l1.5 2.6h-3zM339.6 408.31l1.5 2.6h-3zM340.9 408.27l1.5 2.6h-3zM342.2 408.23l1.5 2.6h-3zM343.5 408.19l1.5 2.6h-3zM344.8 408.16l1.5 2.6h-3zM346.1 408.12l1.5 2.6h-3zM347.4 408.08l1.5 2.6h-3zM348.7 408.04l1.5 2.6h-3zM350 408l1.5 2.6h-3zM351.3 407.96l1.5 2.6h-3zM352.6 407.92l1.5 2.6h-3zM353.9 407.88l1.5 2.6h-3zM355.2 407.84l1.5 2.6h-3zM356.5 407.81l1.5 2.6h-3zM357.8 407.77l1.5 2.6h-3zM359.1 407.73l1.5 2.6h-3zM360.4 407.61l1.5 2.6h-3zM361.7 407.31l1.5 2.6h-3zM363 407l1.5 2.6h-3zM364.3 406.7l1.5 2.6h-3zM365.6 406.4l1.5 2.6h-3zM366.9 406.1l1.5 2.6h-3zM368.2 405.8l1.5 2.6h-3zM369.5 405.49l1.5 2.6h-3zM370.8 405.19l1.5 2.6h-3zM372.1 404.89l1.5 2.6h-3zM373.4 404.59l1.5 2.6h-3zM374.7 404.29l1.5 2.6h-3zM376 403.98l1.5 2.6h-3zM377.3 403.68l1.5 2.6h-3zM378.6 403.38l1.5 2.6h-3zM379.9 403.08l1.5 2.6h-3zM381.2 402.77l1.5 2.6h-3zM382.5 402.37l1.5 2.6h-3zM383.8 401.98l1.5 2.6h-3zM385.1 401.58l1.5 2.6h-3zM386.4 401.19l1.5 2.6h-3zM387.7 400.79l1.5 2.6h-3zM389 400.4l1.5 2.6h-3zM390.3 400l1.5 2.6h-3zM391.6 394.75l1.5 2.6h-3zM392.9 389.51l1.5 2.6h-3zM394.2 381.51l1.5 2.6h-3zM395.5 373.01l1.5 2.6h-3zM396.8 364.96l1.5 2.6h-3zM398.1 357.17l1.5 2.6h-3zM399.4 350.23l1.5 2.6h-3zM400.7 343.8l1.5 2.6h-3zM402 337.95l1.5 2.6h-3zM403.3 326.65l1.5 2.6h-3zM404.6 313.74l1.5 2.6h-3zM405.9 301.29l1.5 2.6h-3zM407.2 286.81l1.5 2.6h-3zM408.5 272.56l1.5 2.6h-3zM409.8 263.29l1.5 2.6h-3zM411.1 262.77l1.5 2.6h-3zM412.4 272.46l1.5 2.6h-3zM413.7 279.11l1.5 2.6h-3zM415 284.83l1.5 2.6h-3zM416.3 290.56l1.5 2.6h-3zM417.6 296.43l1.5 2.6h-3zM418.9 302.32l1.5 2.6h-3zM420.2 307.85l1.5 2.6h-3zM421.5 311.41l1.5 2.6h-3zM422.8 315.05l1.5 2.6h-3zM424.1 319.41l1.5 2.6h-3zM425.4 320.88l1.5 2.6h-3zM426.7 322.35l1.5 2.6h-3zM428 323.25l1.5 2.6h-3zM429.3 323.9l1.5 2.6h-3zM430.6 324.54l1.5 2.6h-3zM431.9 325.18l1.5 2.6h-3zM433.2 325.82l1.5 2.6h-3zM434.5 326.46l1.5 2.6h-3zM435.8 327.1l1.5 2.6h-3zM437.1 327.55l1.5 2.6h-3zM438.4 327.82l1.5 2.6h-3zM439.7 328.09l1.5 2.6h-3zM441 328.36l1.5 2.6h-3zM442.3 328.63l1.5 2.6h-3zM443.6 328.9l1.5 2.6h-3zM444.9 329.17l1.5 2.6h-3zM446.2 329.28l1.5 2.6h-3zM447.5 329.23l1.5 2.6h-3zM448.8 329.19l1.5 2.6h-3zM450.1 329.14l1.5 2.6h-3zM451.4 329.1l1.5 2.6h-3zM452.7 329.05l1.5 2.6h-3zM454 329.01l1.5 2.6h-3zM455.3 330l1.5 2.6h-3zM456.6 331.3l1.5 2.6h-3zM457.9 332.6l1.5 2.6h-3zM459.2 333.9l1.5 2.6h-3zM460.5 335.2l1.5 2.6h-3zM461.8 336.28l1.5 2.6h-3zM463.1 336.87l1.5 2.6h-3zM464.4 337.46l1.5 2.6h-3zM465.7 338.05l1.5 2.6h-3zM467 338.64l1.5 2.6h-3zM468.3 339.23l1.5 2.6h-3zM469.6 339.82l1.5 2.6h-3zM470.9 340.41l1.5 2.6h-3zM472.2 341l1.5 2.6h-3zM473.5 341.59l1.5 2.6h-3zM474.8 342.18l1.5 2.6h-3zM476.1 342.77l1.5 2.6h-3zM477.4 343.36l1.5 2.6h-3zM478.7 343.95l1.5 2.6h-3zM480 344.54l1.5 2.6h-3zM481.3 345.13l1.5 2.6h-3zM482.6 345.72l1.5 2.6h-3zM483.9 346.31l1.5 2.6h-3zM485.2 346.9l1.5 2.6h-3zM486.5 347.49l1.5 2.6h-3zM487.8 348.73l1.5 2.6h-3zM489.1 351.45l1.5 2.6h-3zM490.4 356.14l1.5 2.6h-3zM491.7 362.53l1.5 2.6h-3zM493 365.98l1.5 2.6h-3zM494.3 368.11l1.5 2.6h-3zM495.6 370.24l1.5 2.6h-3zM496.9 371.13l1.5 2.6h-3zM498.2 371.93l1.5 2.6h-3zM499.5 372.72l1.5 2.6h-3zM500.8 373.51l1.5 2.6h-3zM502.1 374.07l1.5 2.6h-3zM503.4 374.24l1.5 2.6h-3zM504.7 374.42l1.5 2.6h-3zM506 374.59l1.5 2.6h-3zM507.3 374.76l1.5 2.6h-3zM508.6 374.94l1.5 2.6h-3zM509.9 375.09l1.5 2.6h-3zM511.2 374.96l1.5 2.6h-3zM512.5 374.83l1.5 2.6h-3zM513.8 374.71l1.5 2.6h-3zM515.1 374.58l1.5 2.6h-3zM516.4 374.45l1.5 2.6h-3z" fill="#00ff00" stroke="none"/>
<rect x="316.2" y="227.6" width="228.6" height="183.5" fill="none" stroke="#3a3a3a" stroke-width="1.3"/>
<line x1="316.1" y1="411.1" x2="316.1" y2="407.6" stroke="#3a3a3a" stroke-width="1"/>
<line x1="316.1" y1="227.6" x2="316.1" y2="231.1" stroke="#3a3a3a" stroke-width="1"/>
<text x="316.1" y="421" font-size="7.5" text-anchor="middle" font-weight="normal" >0</text>
<line x1="367.08" y1="411.1" x2="367.08" y2="407.6" stroke="#3a3a3a" stroke-width="1"/>
<line x1="367.08" y1="227.6" x2="367.08" y2="231.1" stroke="#3a3a3a" stroke-width="1"/>
<text x="367.08" y="421" font-size="7.5" text-anchor="middle" font-weight="normal" >50</text>
<line x1="418.05" y1="411.1" x2="418.05" y2="407.6" stroke="#3a3a3a" stroke-width="1"/>
<line x1="418.05" y1="227.6" x2="418.05" y2="231.1" stroke="#3a3a3a" stroke-width="1"/>
<text x="418.05" y="421" font-size="7.5" text-anchor="middle" font-weight="normal" >100</text>
<line x1="469.03" y1="411.1" x2="469.03" y2="407.6" stroke="#3a3a3a" stroke-width="1"/>
<line x1="469.03" y1="227.6" x2="469.03" y2="231.1" stroke="#3a3a3a" stroke-width="1"/>
<text x="469.03" y="421" font-size="7.5" text-anchor="middle" font-weight="normal" >150</text>
<line x1="520" y1="411.1" x2="520" y2="407.6" stroke="#3a3a3a" stroke-width="1"/>
<line x1="520" y1="227.6" x2="520" y2="231.1" stroke="#3a3a3a" stroke-width="1"/>
<text x="520" y="421" font-size="7.5" text-anchor="middle" font-weight="normal" >200</text>
<line x1="316.2" y1="411.1" x2="319.7" y2="411.1" stroke="#3a3a3a" stroke-width="1"/>
<line x1="544.8" y1="411.1" x2="541.3" y2="411.1" stroke="#3a3a3a" stroke-width="1"/>
<text x="312" y="413.65" font-size="7.5" text-anchor="end" font-weight="normal" >0</text>
<line x1="316.2" y1="370.3" x2="319.7" y2="370.3" stroke="#3a3a3a" stroke-width="1"/>
<line x1="544.8" y1="370.3" x2="541.3" y2="370.3" stroke="#3a3a3a" stroke-width="1"/>
<text x="312" y="372.85" font-size="7.5" text-anchor="end" font-weight="normal" >5</text>
<line x1="316.2" y1="329.5" x2="319.7" y2="329.5" stroke="#3a3a3a" stroke-width="1"/>
<line x1="544.8" y1="329.5" x2="541.3" y2="329.5" stroke="#3a3a3a" stroke-width="1"/>
<text x="312" y="332.05" font-size="7.5" text-anchor="end" font-weight="normal" >10</text>
<line x1="316.2" y1="288.7" x2="319.7" y2="288.7" stroke="#3a3a3a" stroke-width="1"/>
<line x1="544.8" y1="288.7" x2="541.3" y2="288.7" stroke="#3a3a3a" stroke-width="1"/>
<text x="312" y="291.25" font-size="7.5" text-anchor="end" font-weight="normal" >15</text>
<line x1="316.2" y1="247.9" x2="319.7" y2="247.9" stroke="#3a3a3a" stroke-width="1"/>
<line x1="544.8" y1="247.9" x2="541.3" y2="247.9" stroke="#3a3a3a" stroke-width="1"/>
<text x="312" y="250.45" font-size="7.5" text-anchor="end" font-weight="normal" >20</text>
<line x1="458" y1="240.4" x2="476.6" y2="240.4" stroke="#858585" stroke-width="1.6"/>
<rect x="466.1" y="239.2" width="2.4" height="2.4" fill="#000"/>
<text x="478.2" y="243.2" font-size="8.0" text-anchor="start" font-weight="normal" >Upper perforation</text>
<line x1="458" y1="250" x2="476.6" y2="250" stroke="#ff0000" stroke-width="1.2"/>
<circle cx="467.3" cy="250" r="1.4" fill="#ff0000"/>
<text x="478.2" y="253.2" font-size="8.0" text-anchor="start" font-weight="normal" >Middle perforation</text>
<line x1="458" y1="259.4" x2="476.6" y2="259.4" stroke="#00ff00" stroke-width="1.3"/>
<path d="M467.3 257.7l1.5 2.6h-3z" fill="#00ff00"/>
<text x="478.2" y="262.6" font-size="8.0" text-anchor="start" font-weight="normal" >Lower perforation</text>
<text x="346.5" y="266.6" font-size="9.45" text-anchor="start" font-weight="normal" >19.64 MPa</text>
<line x1="389" y1="263.6" x2="415.93" y2="251.89" stroke="#222" stroke-width="0.8"/>
<polygon points="419.6,250.3 416.57,253.36 415.29,250.43" fill="#222"/>
<text x="345.6" y="277.6" font-size="9.45" text-anchor="start" font-weight="normal" >18.44 MPa</text>
<line x1="389" y1="274" x2="406.75" y2="262.48" stroke="#222" stroke-width="0.8"/>
<polygon points="410.1,260.3 407.62,263.82 405.87,261.14" fill="#222"/>
<text x="444.4" y="288.8" font-size="9.45" text-anchor="start" font-weight="normal" >18.34 MPa</text>
<line x1="443.6" y1="283.6" x2="417.71" y2="264.38" stroke="#222" stroke-width="0.8"/>
<polygon points="414.5,262 418.67,263.1 416.76,265.67" fill="#222"/>
<text x="0" y="0" font-size="10.05" text-anchor="middle" transform="translate(301.81,330.3) rotate(-90)">Injection pressure/MPa</text>
<text x="421.4" y="434.6" font-size="9.4" text-anchor="middle" font-weight="normal" >Time/s</text>
<text x="419" y="449.6" font-size="12" text-anchor="middle">(<tspan font-weight="normal">f</tspan>) 6<tspan font-size="6" dy="-4.6">#</tspan><tspan dy="3.6" font-size="9.5">&#8202;&#8212;</tspan><tspan dy="1">60 mm</tspan></text>
<polyline points="25.5,629.5 52,629 60,627 70,622.6 80,620 90,617 100,614 110.2,607.6 117.8,605 122.9,598.7 126.7,594.9 128.5,588.5 130,575.8 131.8,560.5 134.4,545.3 136.5,535 138.9,525.5 141.4,509.1 143,492.7 144.6,484.5 146,492 148,510 151,536 153,550 155,564 157,586 158,588.5 189.7,589.1 190.9,590.3 214.6,591.9 227.6,593.4" fill="none" stroke="#000000" stroke-width="1.0" stroke-linejoin="round" stroke-linecap="round"/>
<path d="M25.5 629.5h0M26.8 629.48h0M28.1 629.45h0M29.4 629.43h0M30.7 629.4h0M32 629.38h0M33.3 629.35h0M34.6 629.33h0M35.9 629.3h0M37.2 629.28h0M38.5 629.25h0M39.8 629.23h0M41.1 629.21h0M42.4 629.18h0M43.7 629.16h0M45 629.13h0M46.3 629.11h0M47.6 629.08h0M48.9 629.06h0M50.2 629.03h0M51.5 629.01h0M52.8 628.8h0M54.1 628.48h0M55.4 628.15h0M56.7 627.83h0M58 627.5h0M59.3 627.18h0M60.6 626.74h0M61.9 626.16h0M63.2 625.59h0M64.5 625.02h0M65.8 624.45h0M67.1 623.88h0M68.4 623.3h0M69.7 622.73h0M71 622.34h0M72.3 622h0M73.6 621.66h0M74.9 621.33h0M76.2 620.99h0M77.5 620.65h0M78.8 620.31h0M80.1 619.97h0M81.4 619.58h0M82.7 619.19h0M84 618.8h0M85.3 618.41h0M86.6 618.02h0M87.9 617.63h0M89.2 617.24h0M90.5 616.85h0M91.8 616.46h0M93.1 616.07h0M94.4 615.68h0M95.7 615.29h0M97 614.9h0M98.3 614.51h0M99.6 614.12h0M100.9 613.44h0M102.2 612.62h0M103.5 611.8h0M104.8 610.99h0M106.1 610.17h0M107.4 609.36h0M108.7 608.54h0M110 607.73h0M111.3 607.22h0M112.6 606.78h0M113.9 606.33h0M115.2 605.89h0M116.5 605.44h0M117.8 605h0M119.1 603.39h0M120.4 601.79h0M121.7 600.18h0M123 598.6h0M124.3 597.3h0M125.6 596h0M126.9 594.19h0M128.2 589.57h0M129.5 580.03h0M130.8 569h0M132.1 558.75h0M133.4 551.15h0M134.7 543.83h0M136 537.45h0M137.3 531.83h0M138.6 526.69h0M139.9 518.94h0M141.2 510.41h0M142.5 497.83h0M143.8 488.6h0M145.1 487.18h0M146.4 495.6h0M147.7 507.3h0M149 518.67h0M150.3 529.93h0M151.6 540.2h0M152.9 549.3h0M154.2 558.4h0M155.5 569.5h0M156.8 583.8h0M158.1 588.5h0M159.4 588.53h0M160.7 588.55h0M162 588.58h0M163.3 588.6h0M164.6 588.62h0M165.9 588.65h0M167.2 588.67h0M168.5 588.7h0M169.8 588.72h0M171.1 588.75h0M172.4 588.77h0M173.7 588.8h0M175 588.82h0M176.3 588.85h0M177.6 588.87h0M178.9 588.9h0M180.2 588.92h0M181.5 588.94h0M182.8 588.97h0M184.1 588.99h0M185.4 589.02h0M186.7 589.04h0M188 589.07h0M189.3 589.09h0M190.6 590h0M191.9 590.37h0M193.2 590.46h0M194.5 590.54h0M195.8 590.63h0M197.1 590.72h0M198.4 590.81h0M199.7 590.89h0M201 590.98h0M202.3 591.07h0M203.6 591.16h0M204.9 591.25h0M206.2 591.33h0M207.5 591.42h0M208.8 591.51h0M210.1 591.6h0M211.4 591.68h0M212.7 591.77h0M214 591.86h0M215.3 591.98h0M216.6 592.13h0M217.9 592.28h0M219.2 592.43h0M220.5 592.58h0M221.8 592.73h0M223.1 592.88h0M224.4 593.03h0M225.7 593.18h0M227 593.33h0" fill="none" stroke="#000000" stroke-width="2.0" stroke-linecap="square"/>
<polyline points="25.5,629.5 54,629 64,627 74,624 84,621.6 96,620.4 100,620.3 110.2,616.5 119.1,612.7 125.4,608.9 128,602.5 130,591 131.8,575.8 134.4,558 136.9,542.7 138.7,530 141.4,512.4 144.6,494.4 146.3,487 148.7,500.9 152,518.9 154.7,535 157.3,544 162.3,549.1 167.4,554.2 170.7,552.9 173.8,555.4 176.3,565.6 178.9,580.9 180.9,594.9 227.6,596.7" fill="none" stroke="#ff0000" stroke-width="1.0" stroke-linejoin="round" stroke-linecap="round"/>
<path d="M25.5 629.5h0M26.8 629.48h0M28.1 629.45h0M29.4 629.43h0M30.7 629.41h0M32 629.39h0M33.3 629.36h0M34.6 629.34h0M35.9 629.32h0M37.2 629.29h0M38.5 629.27h0M39.8 629.25h0M41.1 629.23h0M42.4 629.2h0M43.7 629.18h0M45 629.16h0M46.3 629.14h0M47.6 629.11h0M48.9 629.09h0M50.2 629.07h0M51.5 629.04h0M52.8 629.02h0M54.1 628.98h0M55.4 628.72h0M56.7 628.46h0M58 628.2h0M59.3 627.94h0M60.6 627.68h0M61.9 627.42h0M63.2 627.16h0M64.5 626.85h0M65.8 626.46h0M67.1 626.07h0M68.4 625.68h0M69.7 625.29h0M71 624.9h0M72.3 624.51h0M73.6 624.12h0M74.9 623.78h0M76.2 623.47h0M77.5 623.16h0M78.8 622.85h0M80.1 622.54h0M81.4 622.22h0M82.7 621.91h0M84 621.6h0M85.3 621.47h0M86.6 621.34h0M87.9 621.21h0M89.2 621.08h0M90.5 620.95h0M91.8 620.82h0M93.1 620.69h0M94.4 620.56h0M95.7 620.43h0M97 620.38h0M98.3 620.34h0M99.6 620.31h0M100.9 619.96h0M102.2 619.48h0M103.5 619h0M104.8 618.51h0M106.1 618.03h0M107.4 617.54h0M108.7 617.06h0M110 616.57h0M111.3 616.03h0M112.6 615.48h0M113.9 614.92h0M115.2 614.37h0M116.5 613.81h0M117.8 613.26h0M119.1 612.7h0M120.4 611.92h0M121.7 611.13h0M123 610.35h0M124.3 609.56h0M125.6 608.41h0M126.9 605.21h0M128.2 601.35h0M129.5 593.88h0M130.8 584.24h0M132.1 573.75h0M133.4 564.85h0M134.7 556.16h0M136 548.21h0M137.3 539.88h0M138.6 530.71h0M139.9 522.18h0M141.2 513.7h0M142.5 506.21h0M143.8 498.9h0M145.1 492.22h0M146.4 487.58h0M147.7 495.11h0M149 502.54h0M150.3 509.63h0M151.6 516.72h0M152.9 524.27h0M154.2 532.02h0M155.5 537.77h0M156.8 542.27h0M158.1 544.82h0M159.4 546.14h0M160.7 547.47h0M162 548.79h0M163.3 550.1h0M164.6 551.4h0M165.9 552.7h0M167.2 554h0M168.5 553.77h0M169.8 553.25h0M171.1 553.22h0M172.4 554.27h0M173.7 555.32h0M175 560.3h0M176.3 565.6h0M177.6 573.25h0M178.9 580.9h0M180.2 590h0M181.5 594.92h0M182.8 594.97h0M184.1 595.02h0M185.4 595.07h0M186.7 595.12h0M188 595.17h0M189.3 595.22h0M190.6 595.27h0M191.9 595.32h0M193.2 595.37h0M194.5 595.42h0M195.8 595.47h0M197.1 595.52h0M198.4 595.57h0M199.7 595.62h0M201 595.67h0M202.3 595.72h0M203.6 595.77h0M204.9 595.83h0M206.2 595.88h0M207.5 595.93h0M208.8 595.98h0M210.1 596.03h0M211.4 596.08h0M212.7 596.13h0M214 596.18h0M215.3 596.23h0M216.6 596.28h0M217.9 596.33h0M219.2 596.38h0M220.5 596.43h0M221.8 596.48h0M223.1 596.53h0M224.4 596.58h0M225.7 596.63h0M227 596.68h0" fill="none" stroke="#ff0000" stroke-width="2.4" stroke-linecap="round"/>
<polyline points="25.5,629.3 50,628.6 60,626 70,622.4 80,619.6 92,616.4 104,614 110.2,611 114,609.5 117.8,606.3 120.4,598.7 123.4,593.6 125.4,580.9 126.7,563.1 128.5,545.3 130.7,535 133.2,520.6 135.6,500.9 138.1,485.4 139.7,500.9 142.2,517.3 144.6,536.9 147.2,563.1 151.9,595 224,596.2" fill="none" stroke="#00ff00" stroke-width="1.0" stroke-linejoin="round" stroke-linecap="round"/>
<path d="M25.5 627.6l1.5 2.6h-3zM26.8 627.56l1.5 2.6h-3zM28.1 627.53l1.5 2.6h-3zM29.4 627.49l1.5 2.6h-3zM30.7 627.45l1.5 2.6h-3zM32 627.41l1.5 2.6h-3zM33.3 627.38l1.5 2.6h-3zM34.6 627.34l1.5 2.6h-3zM35.9 627.3l1.5 2.6h-3zM37.2 627.27l1.5 2.6h-3zM38.5 627.23l1.5 2.6h-3zM39.8 627.19l1.5 2.6h-3zM41.1 627.15l1.5 2.6h-3zM42.4 627.12l1.5 2.6h-3zM43.7 627.08l1.5 2.6h-3zM45 627.04l1.5 2.6h-3zM46.3 627.01l1.5 2.6h-3zM47.6 626.97l1.5 2.6h-3zM48.9 626.93l1.5 2.6h-3zM50.2 626.85l1.5 2.6h-3zM51.5 626.51l1.5 2.6h-3zM52.8 626.17l1.5 2.6h-3zM54.1 625.83l1.5 2.6h-3zM55.4 625.5l1.5 2.6h-3zM56.7 625.16l1.5 2.6h-3zM58 624.82l1.5 2.6h-3zM59.3 624.48l1.5 2.6h-3zM60.6 624.08l1.5 2.6h-3zM61.9 623.62l1.5 2.6h-3zM63.2 623.15l1.5 2.6h-3zM64.5 622.68l1.5 2.6h-3zM65.8 622.21l1.5 2.6h-3zM67.1 621.74l1.5 2.6h-3zM68.4 621.28l1.5 2.6h-3zM69.7 620.81l1.5 2.6h-3zM71 620.42l1.5 2.6h-3zM72.3 620.06l1.5 2.6h-3zM73.6 619.69l1.5 2.6h-3zM74.9 619.33l1.5 2.6h-3zM76.2 618.96l1.5 2.6h-3zM77.5 618.6l1.5 2.6h-3zM78.8 618.24l1.5 2.6h-3zM80.1 617.87l1.5 2.6h-3zM81.4 617.53l1.5 2.6h-3zM82.7 617.18l1.5 2.6h-3zM84 616.83l1.5 2.6h-3zM85.3 616.49l1.5 2.6h-3zM86.6 616.14l1.5 2.6h-3zM87.9 615.79l1.5 2.6h-3zM89.2 615.45l1.5 2.6h-3zM90.5 615.1l1.5 2.6h-3zM91.8 614.75l1.5 2.6h-3zM93.1 614.48l1.5 2.6h-3zM94.4 614.22l1.5 2.6h-3zM95.7 613.96l1.5 2.6h-3zM97 613.7l1.5 2.6h-3zM98.3 613.44l1.5 2.6h-3zM99.6 613.18l1.5 2.6h-3zM100.9 612.92l1.5 2.6h-3zM102.2 612.66l1.5 2.6h-3zM103.5 612.4l1.5 2.6h-3zM104.8 611.91l1.5 2.6h-3zM106.1 611.28l1.5 2.6h-3zM107.4 610.65l1.5 2.6h-3zM108.7 610.03l1.5 2.6h-3zM110 609.4l1.5 2.6h-3zM111.3 608.87l1.5 2.6h-3zM112.6 608.35l1.5 2.6h-3zM113.9 607.84l1.5 2.6h-3zM115.2 606.79l1.5 2.6h-3zM116.5 605.69l1.5 2.6h-3zM117.8 604.6l1.5 2.6h-3zM119.1 600.8l1.5 2.6h-3zM120.4 597l1.5 2.6h-3zM121.7 594.79l1.5 2.6h-3zM123 592.58l1.5 2.6h-3zM124.3 586.19l1.5 2.6h-3zM125.6 576.46l1.5 2.6h-3zM126.9 559.42l1.5 2.6h-3zM128.2 546.57l1.5 2.6h-3zM129.5 538.92l1.5 2.6h-3zM130.8 532.72l1.5 2.6h-3zM132.1 525.24l1.5 2.6h-3zM133.4 517.26l1.5 2.6h-3zM134.7 506.59l1.5 2.6h-3zM136 496.72l1.5 2.6h-3zM137.3 488.66l1.5 2.6h-3zM138.6 488.54l1.5 2.6h-3zM139.9 500.51l1.5 2.6h-3zM141.2 509.04l1.5 2.6h-3zM142.5 518.05l1.5 2.6h-3zM143.8 528.67l1.5 2.6h-3zM145.1 540.24l1.5 2.6h-3zM146.4 553.34l1.5 2.6h-3zM147.7 564.79l1.5 2.6h-3zM149 573.62l1.5 2.6h-3zM150.3 582.44l1.5 2.6h-3zM151.6 591.26l1.5 2.6h-3zM152.9 593.32l1.5 2.6h-3zM154.2 593.34l1.5 2.6h-3zM155.5 593.36l1.5 2.6h-3zM156.8 593.38l1.5 2.6h-3zM158.1 593.4l1.5 2.6h-3zM159.4 593.42l1.5 2.6h-3zM160.7 593.45l1.5 2.6h-3zM162 593.47l1.5 2.6h-3zM163.3 593.49l1.5 2.6h-3zM164.6 593.51l1.5 2.6h-3zM165.9 593.53l1.5 2.6h-3zM167.2 593.55l1.5 2.6h-3zM168.5 593.58l1.5 2.6h-3zM169.8 593.6l1.5 2.6h-3zM171.1 593.62l1.5 2.6h-3zM172.4 593.64l1.5 2.6h-3zM173.7 593.66l1.5 2.6h-3zM175 593.68l1.5 2.6h-3zM176.3 593.71l1.5 2.6h-3zM177.6 593.73l1.5 2.6h-3zM178.9 593.75l1.5 2.6h-3zM180.2 593.77l1.5 2.6h-3zM181.5 593.79l1.5 2.6h-3zM182.8 593.81l1.5 2.6h-3zM184.1 593.84l1.5 2.6h-3zM185.4 593.86l1.5 2.6h-3zM186.7 593.88l1.5 2.6h-3zM188 593.9l1.5 2.6h-3zM189.3 593.92l1.5 2.6h-3zM190.6 593.94l1.5 2.6h-3zM191.9 593.97l1.5 2.6h-3zM193.2 593.99l1.5 2.6h-3zM194.5 594.01l1.5 2.6h-3zM195.8 594.03l1.5 2.6h-3zM197.1 594.05l1.5 2.6h-3zM198.4 594.07l1.5 2.6h-3zM199.7 594.1l1.5 2.6h-3zM201 594.12l1.5 2.6h-3zM202.3 594.14l1.5 2.6h-3zM203.6 594.16l1.5 2.6h-3zM204.9 594.18l1.5 2.6h-3zM206.2 594.2l1.5 2.6h-3zM207.5 594.23l1.5 2.6h-3zM208.8 594.25l1.5 2.6h-3zM210.1 594.27l1.5 2.6h-3zM211.4 594.29l1.5 2.6h-3zM212.7 594.31l1.5 2.6h-3zM214 594.33l1.5 2.6h-3zM215.3 594.36l1.5 2.6h-3zM216.6 594.38l1.5 2.6h-3zM217.9 594.4l1.5 2.6h-3zM219.2 594.42l1.5 2.6h-3zM220.5 594.44l1.5 2.6h-3zM221.8 594.46l1.5 2.6h-3zM223.1 594.49l1.5 2.6h-3z" fill="#00ff00" stroke="none"/>
<rect x="25.5" y="453.6" width="220.6" height="175.9" fill="none" stroke="#3a3a3a" stroke-width="1.3"/>
<line x1="25.1" y1="629.5" x2="25.1" y2="626" stroke="#3a3a3a" stroke-width="1"/>
<line x1="25.1" y1="453.6" x2="25.1" y2="457.1" stroke="#3a3a3a" stroke-width="1"/>
<text x="25.1" y="639.5" font-size="7.5" text-anchor="middle" font-weight="normal" >0</text>
<line x1="49.72" y1="629.5" x2="49.72" y2="626" stroke="#3a3a3a" stroke-width="1"/>
<line x1="49.72" y1="453.6" x2="49.72" y2="457.1" stroke="#3a3a3a" stroke-width="1"/>
<text x="49.72" y="639.5" font-size="7.5" text-anchor="middle" font-weight="normal" >20</text>
<line x1="74.34" y1="629.5" x2="74.34" y2="626" stroke="#3a3a3a" stroke-width="1"/>
<line x1="74.34" y1="453.6" x2="74.34" y2="457.1" stroke="#3a3a3a" stroke-width="1"/>
<text x="74.34" y="639.5" font-size="7.5" text-anchor="middle" font-weight="normal" >40</text>
<line x1="98.96" y1="629.5" x2="98.96" y2="626" stroke="#3a3a3a" stroke-width="1"/>
<line x1="98.96" y1="453.6" x2="98.96" y2="457.1" stroke="#3a3a3a" stroke-width="1"/>
<text x="98.96" y="639.5" font-size="7.5" text-anchor="middle" font-weight="normal" >60</text>
<line x1="123.58" y1="629.5" x2="123.58" y2="626" stroke="#3a3a3a" stroke-width="1"/>
<line x1="123.58" y1="453.6" x2="123.58" y2="457.1" stroke="#3a3a3a" stroke-width="1"/>
<text x="123.58" y="639.5" font-size="7.5" text-anchor="middle" font-weight="normal" >80</text>
<line x1="148.2" y1="629.5" x2="148.2" y2="626" stroke="#3a3a3a" stroke-width="1"/>
<line x1="148.2" y1="453.6" x2="148.2" y2="457.1" stroke="#3a3a3a" stroke-width="1"/>
<text x="148.2" y="639.5" font-size="7.5" text-anchor="middle" font-weight="normal" >100</text>
<line x1="172.82" y1="629.5" x2="172.82" y2="626" stroke="#3a3a3a" stroke-width="1"/>
<line x1="172.82" y1="453.6" x2="172.82" y2="457.1" stroke="#3a3a3a" stroke-width="1"/>
<text x="172.82" y="639.5" font-size="7.5" text-anchor="middle" font-weight="normal" >120</text>
<line x1="197.44" y1="629.5" x2="197.44" y2="626" stroke="#3a3a3a" stroke-width="1"/>
<line x1="197.44" y1="453.6" x2="197.44" y2="457.1" stroke="#3a3a3a" stroke-width="1"/>
<text x="197.44" y="639.5" font-size="7.5" text-anchor="middle" font-weight="normal" >140</text>
<line x1="222.06" y1="629.5" x2="222.06" y2="626" stroke="#3a3a3a" stroke-width="1"/>
<line x1="222.06" y1="453.6" x2="222.06" y2="457.1" stroke="#3a3a3a" stroke-width="1"/>
<text x="222.06" y="639.5" font-size="7.5" text-anchor="middle" font-weight="normal" >160</text>
<line x1="246.68" y1="629.5" x2="246.68" y2="626" stroke="#3a3a3a" stroke-width="1"/>
<line x1="246.68" y1="453.6" x2="246.68" y2="457.1" stroke="#3a3a3a" stroke-width="1"/>
<text x="246.68" y="639.5" font-size="7.5" text-anchor="middle" font-weight="normal" >180</text>
<line x1="25.5" y1="629.5" x2="29" y2="629.5" stroke="#3a3a3a" stroke-width="1"/>
<line x1="246.1" y1="629.5" x2="242.6" y2="629.5" stroke="#3a3a3a" stroke-width="1"/>
<text x="21.3" y="632.05" font-size="7.5" text-anchor="end" font-weight="normal" >0</text>
<line x1="25.5" y1="590.35" x2="29" y2="590.35" stroke="#3a3a3a" stroke-width="1"/>
<line x1="246.1" y1="590.35" x2="242.6" y2="590.35" stroke="#3a3a3a" stroke-width="1"/>
<text x="21.3" y="592.9" font-size="7.5" text-anchor="end" font-weight="normal" >5</text>
<line x1="25.5" y1="551.2" x2="29" y2="551.2" stroke="#3a3a3a" stroke-width="1"/>
<line x1="246.1" y1="551.2" x2="242.6" y2="551.2" stroke="#3a3a3a" stroke-width="1"/>
<text x="21.3" y="553.75" font-size="7.5" text-anchor="end" font-weight="normal" >10</text>
<line x1="25.5" y1="512.05" x2="29" y2="512.05" stroke="#3a3a3a" stroke-width="1"/>
<line x1="246.1" y1="512.05" x2="242.6" y2="512.05" stroke="#3a3a3a" stroke-width="1"/>
<text x="21.3" y="514.6" font-size="7.5" text-anchor="end" font-weight="normal" >15</text>
<line x1="25.5" y1="472.9" x2="29" y2="472.9" stroke="#3a3a3a" stroke-width="1"/>
<line x1="246.1" y1="472.9" x2="242.6" y2="472.9" stroke="#3a3a3a" stroke-width="1"/>
<text x="21.3" y="475.45" font-size="7.5" text-anchor="end" font-weight="normal" >20</text>
<line x1="164.6" y1="465.1" x2="183.6" y2="465.1" stroke="#858585" stroke-width="1.6"/>
<rect x="172.9" y="463.9" width="2.4" height="2.4" fill="#000"/>
<text x="184.2" y="467.9" font-size="7.9" text-anchor="start" font-weight="normal" >Upper perforation</text>
<line x1="164.6" y1="474.6" x2="183.6" y2="474.6" stroke="#ff0000" stroke-width="1.2"/>
<circle cx="174.1" cy="474.6" r="1.4" fill="#ff0000"/>
<text x="184.2" y="477.8" font-size="7.9" text-anchor="start" font-weight="normal" >Middle perforation</text>
<line x1="164.6" y1="483.2" x2="183.6" y2="483.2" stroke="#00ff00" stroke-width="1.3"/>
<path d="M174.1 481.5l1.5 2.6h-3z" fill="#00ff00"/>
<text x="184.2" y="486.4" font-size="7.9" text-anchor="start" font-weight="normal" >Lower perforation</text>
<text x="85.3" y="474.6" font-size="9.3" text-anchor="start" font-weight="normal" >18.21 MPa</text>
<line x1="128.3" y1="473.9" x2="141.48" y2="482.77" stroke="#222" stroke-width="0.8"/>
<polygon points="144.8,485 140.59,484.09 142.37,481.44" fill="#222"/>
<text x="73.6" y="506.8" font-size="9.3" text-anchor="start" font-weight="normal" >18.33 MPa</text>
<line x1="117.6" y1="502.6" x2="134.71" y2="488.54" stroke="#222" stroke-width="0.8"/>
<polygon points="137.8,486 135.73,489.78 133.69,487.3" fill="#222"/>
<text x="163.3" y="510.9" font-size="9.3" text-anchor="start" font-weight="normal" >18.01 MPa</text>
<line x1="162.5" y1="506" x2="149.12" y2="490.53" stroke="#222" stroke-width="0.8"/>
<polygon points="146.5,487.5 150.33,489.48 147.91,491.57" fill="#222"/>
<text x="0" y="0" font-size="10.35" text-anchor="middle" transform="translate(8.9,542.1) rotate(-90)">Injection pressure/MPa</text>
<text x="131.8" y="652" font-size="9.4" text-anchor="middle" font-weight="normal" >Time/s</text>
<text x="125.9" y="669.8" font-size="12" text-anchor="middle">(<tspan font-weight="normal">g</tspan>) 7<tspan font-size="6" dy="-4.6">#</tspan><tspan dy="3.6" font-size="9.5">&#8202;&#8212;</tspan><tspan dy="1">70 mm</tspan></text>
<polyline points="321.8,636 360,635.5 382,634.5 390,631 394.5,627.5 397.5,621 400,608 402,593 404,578 406.3,556.7 407.7,547.3 409.4,532.7 411,520.7 412.3,504.7 414.3,494 415.7,478 417.5,488 419,500 421,515.3 422.7,530 423.9,545.4 425.7,551.4 430.4,554.9 436.4,559.7 443.5,562.6 450.6,565 457.7,568 463.6,570.3 464.2,577.4 466,578.6 467.8,577.4 469.1,581.9 470.3,589 474.5,593.7 479.2,597.3 483.9,600.8 488.6,602.6 498.1,603.8 512.3,605 514.6,609.1 515.8,612.6 519.4,614.4 523.5,615" fill="none" stroke="#000000" stroke-width="1.0" stroke-linejoin="round" stroke-linecap="round"/>
<path d="M321.8 636h0M323.1 635.98h0M324.4 635.97h0M325.7 635.95h0M327 635.93h0M328.3 635.91h0M329.6 635.9h0M330.9 635.88h0M332.2 635.86h0M333.5 635.85h0M334.8 635.83h0M336.1 635.81h0M337.4 635.8h0M338.7 635.78h0M340 635.76h0M341.3 635.74h0M342.6 635.73h0M343.9 635.71h0M345.2 635.69h0M346.5 635.68h0M347.8 635.66h0M349.1 635.64h0M350.4 635.63h0M351.7 635.61h0M353 635.59h0M354.3 635.57h0M355.6 635.56h0M356.9 635.54h0M358.2 635.52h0M359.5 635.51h0M360.8 635.46h0M362.1 635.4h0M363.4 635.35h0M364.7 635.29h0M366 635.23h0M367.3 635.17h0M368.6 635.11h0M369.9 635.05h0M371.2 634.99h0M372.5 634.93h0M373.8 634.87h0M375.1 634.81h0M376.4 634.75h0M377.7 634.7h0M379 634.64h0M380.3 634.58h0M381.6 634.52h0M382.9 634.11h0M384.2 633.54h0M385.5 632.97h0M386.8 632.4h0M388.1 631.83h0M389.4 631.26h0M390.7 630.46h0M392 629.44h0M393.3 628.43h0M394.6 627.28h0M395.9 624.47h0M397.2 621.65h0M398.5 615.8h0M399.8 609.04h0M401.1 599.75h0M402.4 590h0M403.7 580.25h0M405 568.74h0M406.3 556.7h0M407.6 547.97h0M408.9 536.99h0M410.2 526.7h0M411.5 514.55h0M412.8 502.02h0M414.1 495.07h0M415.4 481.43h0M416.7 483.56h0M418 492h0M419.3 502.3h0M420.6 512.24h0M421.9 523.08h0M423.2 536.42h0M424.5 547.4h0M425.8 551.47h0M427.1 552.44h0M428.4 553.41h0M429.7 554.38h0M431 555.38h0M432.3 556.42h0M433.6 557.46h0M434.9 558.5h0M436.2 559.54h0M437.5 560.15h0M438.8 560.68h0M440.1 561.21h0M441.4 561.74h0M442.7 562.27h0M444 562.77h0M445.3 563.21h0M446.6 563.65h0M447.9 564.09h0M449.2 564.53h0M450.5 564.97h0M451.8 565.51h0M453.1 566.06h0M454.4 566.61h0M455.7 567.15h0M457 567.7h0M458.3 568.23h0M459.6 568.74h0M460.9 569.25h0M462.2 569.75h0M463.5 570.26h0M464.8 577.8h0M466.1 578.53h0M467.4 577.67h0M468.7 580.52h0M470 587.23h0M471.3 590.12h0M472.6 591.57h0M473.9 593.03h0M475.2 594.24h0M476.5 595.23h0M477.8 596.23h0M479.1 597.22h0M480.4 598.19h0M481.7 599.16h0M483 600.13h0M484.3 600.95h0M485.6 601.45h0M486.9 601.95h0M488.2 602.45h0M489.5 602.71h0M490.8 602.88h0M492.1 603.04h0M493.4 603.21h0M494.7 603.37h0M496 603.53h0M497.3 603.7h0M498.6 603.84h0M499.9 603.95h0M501.2 604.06h0M502.5 604.17h0M503.8 604.28h0M505.1 604.39h0M506.4 604.5h0M507.7 604.61h0M509 604.72h0M510.3 604.83h0M511.6 604.94h0M512.9 606.07h0M514.2 608.39h0M515.5 611.73h0M516.8 613.1h0M518.1 613.75h0M519.4 614.4h0M520.7 614.59h0M522 614.78h0M523.3 614.97h0" fill="none" stroke="#000000" stroke-width="2.0" stroke-linecap="square"/>
<polyline points="321.8,636 370,635.5 383,634.5 390,631 394.5,627 397.5,620 400,606 402,592 403.8,575 404.5,560 405,546 406.3,532.7 408.3,514 411,491.3 414.3,473.3 417,484.7 419,500.7 421.7,519.3 423.7,528.7 426.3,542 429.2,552.5 431,557.3 431.6,568 432.8,568 436.4,567.4 445.8,566.2 462.4,564.2 476.8,563 488.6,561.8 498.1,561.6 498.7,577.2 500.5,581.9 501.6,589 505.2,592.6 509.9,596.1 514.6,600.2 519.4,602.6 523.5,603.2" fill="none" stroke="#ff0000" stroke-width="1.0" stroke-linejoin="round" stroke-linecap="round"/>
<path d="M321.8 636h0M323.1 635.99h0M324.4 635.97h0M325.7 635.96h0M327 635.95h0M328.3 635.93h0M329.6 635.92h0M330.9 635.91h0M332.2 635.89h0M333.5 635.88h0M334.8 635.87h0M336.1 635.85h0M337.4 635.84h0M338.7 635.82h0M340 635.81h0M341.3 635.8h0M342.6 635.78h0M343.9 635.77h0M345.2 635.76h0M346.5 635.74h0M347.8 635.73h0M349.1 635.72h0M350.4 635.7h0M351.7 635.69h0M353 635.68h0M354.3 635.66h0M355.6 635.65h0M356.9 635.64h0M358.2 635.62h0M359.5 635.61h0M360.8 635.6h0M362.1 635.58h0M363.4 635.57h0M364.7 635.55h0M366 635.54h0M367.3 635.53h0M368.6 635.51h0M369.9 635.5h0M371.2 635.41h0M372.5 635.31h0M373.8 635.21h0M375.1 635.11h0M376.4 635.01h0M377.7 634.91h0M379 634.81h0M380.3 634.71h0M381.6 634.61h0M382.9 634.51h0M384.2 633.9h0M385.5 633.25h0M386.8 632.6h0M388.1 631.95h0M389.4 631.3h0M390.7 630.38h0M392 629.22h0M393.3 628.07h0M394.6 626.77h0M395.9 623.73h0M397.2 620.7h0M398.5 614.4h0M399.8 607.12h0M401.1 598.3h0M402.4 588.22h0M403.7 575.94h0M405 546h0M406.3 532.7h0M407.6 520.54h0M408.9 508.96h0M410.2 498.03h0M411.5 488.57h0M412.8 481.48h0M414.1 474.39h0M415.4 477.94h0M416.7 483.43h0M418 492.7h0M419.3 502.77h0M420.6 511.72h0M421.9 520.24h0M423.2 526.35h0M424.5 532.79h0M425.8 539.44h0M427.1 544.9h0M428.4 549.6h0M429.7 553.83h0M431 557.3h0M432.3 568h0M433.6 567.87h0M434.9 567.65h0M436.2 567.43h0M437.5 567.26h0M438.8 567.09h0M440.1 566.93h0M441.4 566.76h0M442.7 566.6h0M444 566.43h0M445.3 566.26h0M446.6 566.1h0M447.9 565.95h0M449.2 565.79h0M450.5 565.63h0M451.8 565.48h0M453.1 565.32h0M454.4 565.16h0M455.7 565.01h0M457 564.85h0M458.3 564.69h0M459.6 564.54h0M460.9 564.38h0M462.2 564.22h0M463.5 564.11h0M464.8 564h0M466.1 563.89h0M467.4 563.78h0M468.7 563.67h0M470 563.57h0M471.3 563.46h0M472.6 563.35h0M473.9 563.24h0M475.2 563.13h0M476.5 563.02h0M477.8 562.9h0M479.1 562.77h0M480.4 562.63h0M481.7 562.5h0M483 562.37h0M484.3 562.24h0M485.6 562.11h0M486.9 561.97h0M488.2 561.84h0M489.5 561.78h0M490.8 561.75h0M492.1 561.73h0M493.4 561.7h0M494.7 561.67h0M496 561.64h0M497.3 561.62h0M498.6 574.6h0M499.9 580.33h0M501.2 586.42h0M502.5 589.9h0M503.8 591.2h0M505.1 592.5h0M506.4 593.49h0M507.7 594.46h0M509 595.43h0M510.3 596.45h0M511.6 597.58h0M512.9 598.72h0M514.2 599.85h0M515.5 600.65h0M516.8 601.3h0M518.1 601.95h0M519.4 602.6h0M520.7 602.79h0M522 602.98h0M523.3 603.17h0" fill="none" stroke="#ff0000" stroke-width="2.4" stroke-linecap="round"/>
<polyline points="321.8,635.5 360,635.1 382.3,633.6 389.7,629.9 394.2,626.9 397.1,620.2 399.4,606.9 401.6,592 403.8,577.1 405,560 406.3,546 408.3,526 410.3,506 411.7,492.7 413.7,474 415,483.3 417,503.3 419.7,520.7 421.5,530 423.3,541.9 425.7,550.2 428.6,553.7 429.8,559.7 430.4,572.1 435.2,572.1 435.8,566.8 438.7,565.6 443.5,564.4 447,566.2 453,568 457.7,569.7 458.9,571.5 460.1,577.4 461.9,579.8 462.5,583.4 463.6,589.3 466,596.4 467.4,598.5 469.6,598.8 472.1,599.6 474.5,596.1 478,597.3 482.7,600.8 488.6,604.4 494.6,607.9 500.5,610.3 506.4,611.5 512.3,613.2 518.2,613.8 523.5,613.8" fill="none" stroke="#00ff00" stroke-width="1.0" stroke-linejoin="round" stroke-linecap="round"/>
<path d="M321.8 633.8l1.5 2.6h-3zM323.1 633.79l1.5 2.6h-3zM324.4 633.77l1.5 2.6h-3zM325.7 633.76l1.5 2.6h-3zM327 633.75l1.5 2.6h-3zM328.3 633.73l1.5 2.6h-3zM329.6 633.72l1.5 2.6h-3zM330.9 633.7l1.5 2.6h-3zM332.2 633.69l1.5 2.6h-3zM333.5 633.68l1.5 2.6h-3zM334.8 633.66l1.5 2.6h-3zM336.1 633.65l1.5 2.6h-3zM337.4 633.64l1.5 2.6h-3zM338.7 633.62l1.5 2.6h-3zM340 633.61l1.5 2.6h-3zM341.3 633.6l1.5 2.6h-3zM342.6 633.58l1.5 2.6h-3zM343.9 633.57l1.5 2.6h-3zM345.2 633.55l1.5 2.6h-3zM346.5 633.54l1.5 2.6h-3zM347.8 633.53l1.5 2.6h-3zM349.1 633.51l1.5 2.6h-3zM350.4 633.5l1.5 2.6h-3zM351.7 633.49l1.5 2.6h-3zM353 633.47l1.5 2.6h-3zM354.3 633.46l1.5 2.6h-3zM355.6 633.45l1.5 2.6h-3zM356.9 633.43l1.5 2.6h-3zM358.2 633.42l1.5 2.6h-3zM359.5 633.41l1.5 2.6h-3zM360.8 633.35l1.5 2.6h-3zM362.1 633.26l1.5 2.6h-3zM363.4 633.17l1.5 2.6h-3zM364.7 633.08l1.5 2.6h-3zM366 633l1.5 2.6h-3zM367.3 632.91l1.5 2.6h-3zM368.6 632.82l1.5 2.6h-3zM369.9 632.73l1.5 2.6h-3zM371.2 632.65l1.5 2.6h-3zM372.5 632.56l1.5 2.6h-3zM373.8 632.47l1.5 2.6h-3zM375.1 632.38l1.5 2.6h-3zM376.4 632.3l1.5 2.6h-3zM377.7 632.21l1.5 2.6h-3zM379 632.12l1.5 2.6h-3zM380.3 632.03l1.5 2.6h-3zM381.6 631.95l1.5 2.6h-3zM382.9 631.6l1.5 2.6h-3zM384.2 630.95l1.5 2.6h-3zM385.5 630.3l1.5 2.6h-3zM386.8 629.65l1.5 2.6h-3zM388.1 629l1.5 2.6h-3zM389.4 628.35l1.5 2.6h-3zM390.7 627.53l1.5 2.6h-3zM392 626.67l1.5 2.6h-3zM393.3 625.8l1.5 2.6h-3zM394.6 624.28l1.5 2.6h-3zM395.9 621.27l1.5 2.6h-3zM397.2 617.92l1.5 2.6h-3zM398.5 610.4l1.5 2.6h-3zM399.8 602.49l1.5 2.6h-3zM401.1 593.69l1.5 2.6h-3zM402.4 584.88l1.5 2.6h-3zM403.7 576.08l1.5 2.6h-3zM405 558.3l1.5 2.6h-3zM406.3 544.3l1.5 2.6h-3zM407.6 531.3l1.5 2.6h-3zM408.9 518.3l1.5 2.6h-3zM410.2 505.3l1.5 2.6h-3zM411.5 492.9l1.5 2.6h-3zM412.8 480.71l1.5 2.6h-3zM414.1 475.16l1.5 2.6h-3zM415.4 485.6l1.5 2.6h-3zM416.7 498.6l1.5 2.6h-3zM418 508.04l1.5 2.6h-3zM419.3 516.42l1.5 2.6h-3zM420.6 523.65l1.5 2.6h-3zM421.9 530.94l1.5 2.6h-3zM423.2 539.54l1.5 2.6h-3zM424.5 544.35l1.5 2.6h-3zM425.8 548.62l1.5 2.6h-3zM427.1 550.19l1.5 2.6h-3zM428.4 551.76l1.5 2.6h-3zM429.7 557.5l1.5 2.6h-3zM431 570.4l1.5 2.6h-3zM432.3 570.4l1.5 2.6h-3zM433.6 570.4l1.5 2.6h-3zM434.9 570.4l1.5 2.6h-3zM436.2 564.93l1.5 2.6h-3zM437.5 564.4l1.5 2.6h-3zM438.8 563.87l1.5 2.6h-3zM440.1 563.55l1.5 2.6h-3zM441.4 563.22l1.5 2.6h-3zM442.7 562.9l1.5 2.6h-3zM444 562.96l1.5 2.6h-3zM445.3 563.63l1.5 2.6h-3zM446.6 564.29l1.5 2.6h-3zM447.9 564.77l1.5 2.6h-3zM449.2 565.16l1.5 2.6h-3zM450.5 565.55l1.5 2.6h-3zM451.8 565.94l1.5 2.6h-3zM453.1 566.34l1.5 2.6h-3zM454.4 566.81l1.5 2.6h-3zM455.7 567.28l1.5 2.6h-3zM457 567.75l1.5 2.6h-3zM458.3 568.9l1.5 2.6h-3zM459.6 573.24l1.5 2.6h-3zM460.9 576.77l1.5 2.6h-3zM462.2 579.9l1.5 2.6h-3zM463.5 587.06l1.5 2.6h-3zM464.8 591.15l1.5 2.6h-3zM466.1 594.85l1.5 2.6h-3zM467.4 596.8l1.5 2.6h-3zM468.7 596.98l1.5 2.6h-3zM470 597.23l1.5 2.6h-3zM471.3 597.64l1.5 2.6h-3zM472.6 597.17l1.5 2.6h-3zM473.9 595.27l1.5 2.6h-3zM475.2 594.64l1.5 2.6h-3zM476.5 595.09l1.5 2.6h-3zM477.8 595.53l1.5 2.6h-3zM479.1 596.42l1.5 2.6h-3zM480.4 597.39l1.5 2.6h-3zM481.7 598.36l1.5 2.6h-3zM483 599.28l1.5 2.6h-3zM484.3 600.08l1.5 2.6h-3zM485.6 600.87l1.5 2.6h-3zM486.9 601.66l1.5 2.6h-3zM488.2 602.46l1.5 2.6h-3zM489.5 603.23l1.5 2.6h-3zM490.8 603.98l1.5 2.6h-3zM492.1 604.74l1.5 2.6h-3zM493.4 605.5l1.5 2.6h-3zM494.7 606.24l1.5 2.6h-3zM496 606.77l1.5 2.6h-3zM497.3 607.3l1.5 2.6h-3zM498.6 607.83l1.5 2.6h-3zM499.9 608.36l1.5 2.6h-3zM501.2 608.74l1.5 2.6h-3zM502.5 609.01l1.5 2.6h-3zM503.8 609.27l1.5 2.6h-3zM505.1 609.54l1.5 2.6h-3zM506.4 609.8l1.5 2.6h-3zM507.7 610.17l1.5 2.6h-3zM509 610.55l1.5 2.6h-3zM510.3 610.92l1.5 2.6h-3zM511.6 611.3l1.5 2.6h-3zM512.9 611.56l1.5 2.6h-3zM514.2 611.69l1.5 2.6h-3zM515.5 611.83l1.5 2.6h-3zM516.8 611.96l1.5 2.6h-3zM518.1 612.09l1.5 2.6h-3zM519.4 612.1l1.5 2.6h-3zM520.7 612.1l1.5 2.6h-3zM522 612.1l1.5 2.6h-3zM523.3 612.1l1.5 2.6h-3z" fill="#00ff00" stroke="none"/>
<rect x="321.8" y="459.3" width="220" height="177" fill="none" stroke="#3a3a3a" stroke-width="1.3"/>
<line x1="321.7" y1="636.3" x2="321.7" y2="632.8" stroke="#3a3a3a" stroke-width="1"/>
<line x1="321.7" y1="459.3" x2="321.7" y2="462.8" stroke="#3a3a3a" stroke-width="1"/>
<text x="321.7" y="645.9" font-size="7.5" text-anchor="middle" font-weight="normal" >0</text>
<line x1="376.75" y1="636.3" x2="376.75" y2="632.8" stroke="#3a3a3a" stroke-width="1"/>
<line x1="376.75" y1="459.3" x2="376.75" y2="462.8" stroke="#3a3a3a" stroke-width="1"/>
<text x="376.75" y="645.9" font-size="7.5" text-anchor="middle" font-weight="normal" >50</text>
<line x1="431.8" y1="636.3" x2="431.8" y2="632.8" stroke="#3a3a3a" stroke-width="1"/>
<line x1="431.8" y1="459.3" x2="431.8" y2="462.8" stroke="#3a3a3a" stroke-width="1"/>
<text x="431.8" y="645.9" font-size="7.5" text-anchor="middle" font-weight="normal" >100</text>
<line x1="486.85" y1="636.3" x2="486.85" y2="632.8" stroke="#3a3a3a" stroke-width="1"/>
<line x1="486.85" y1="459.3" x2="486.85" y2="462.8" stroke="#3a3a3a" stroke-width="1"/>
<text x="486.85" y="645.9" font-size="7.5" text-anchor="middle" font-weight="normal" >150</text>
<line x1="541.9" y1="636.3" x2="541.9" y2="632.8" stroke="#3a3a3a" stroke-width="1"/>
<line x1="541.9" y1="459.3" x2="541.9" y2="462.8" stroke="#3a3a3a" stroke-width="1"/>
<text x="541.9" y="645.9" font-size="7.5" text-anchor="middle" font-weight="normal" >200</text>
<line x1="321.8" y1="636.3" x2="325.3" y2="636.3" stroke="#3a3a3a" stroke-width="1"/>
<line x1="541.8" y1="636.3" x2="538.3" y2="636.3" stroke="#3a3a3a" stroke-width="1"/>
<text x="317.6" y="638.85" font-size="7.5" text-anchor="end" font-weight="normal" >0</text>
<line x1="321.8" y1="618.6" x2="325.3" y2="618.6" stroke="#3a3a3a" stroke-width="1"/>
<line x1="541.8" y1="618.6" x2="538.3" y2="618.6" stroke="#3a3a3a" stroke-width="1"/>
<text x="317.6" y="621.15" font-size="7.5" text-anchor="end" font-weight="normal" >2</text>
<line x1="321.8" y1="600.9" x2="325.3" y2="600.9" stroke="#3a3a3a" stroke-width="1"/>
<line x1="541.8" y1="600.9" x2="538.3" y2="600.9" stroke="#3a3a3a" stroke-width="1"/>
<text x="317.6" y="603.45" font-size="7.5" text-anchor="end" font-weight="normal" >4</text>
<line x1="321.8" y1="583.2" x2="325.3" y2="583.2" stroke="#3a3a3a" stroke-width="1"/>
<line x1="541.8" y1="583.2" x2="538.3" y2="583.2" stroke="#3a3a3a" stroke-width="1"/>
<text x="317.6" y="585.75" font-size="7.5" text-anchor="end" font-weight="normal" >6</text>
<line x1="321.8" y1="565.5" x2="325.3" y2="565.5" stroke="#3a3a3a" stroke-width="1"/>
<line x1="541.8" y1="565.5" x2="538.3" y2="565.5" stroke="#3a3a3a" stroke-width="1"/>
<text x="317.6" y="568.05" font-size="7.5" text-anchor="end" font-weight="normal" >8</text>
<line x1="321.8" y1="547.8" x2="325.3" y2="547.8" stroke="#3a3a3a" stroke-width="1"/>
<line x1="541.8" y1="547.8" x2="538.3" y2="547.8" stroke="#3a3a3a" stroke-width="1"/>
<text x="317.6" y="550.35" font-size="7.5" text-anchor="end" font-weight="normal" >10</text>
<line x1="321.8" y1="530.1" x2="325.3" y2="530.1" stroke="#3a3a3a" stroke-width="1"/>
<line x1="541.8" y1="530.1" x2="538.3" y2="530.1" stroke="#3a3a3a" stroke-width="1"/>
<text x="317.6" y="532.65" font-size="7.5" text-anchor="end" font-weight="normal" >12</text>
<line x1="321.8" y1="512.4" x2="325.3" y2="512.4" stroke="#3a3a3a" stroke-width="1"/>
<line x1="541.8" y1="512.4" x2="538.3" y2="512.4" stroke="#3a3a3a" stroke-width="1"/>
<text x="317.6" y="514.95" font-size="7.5" text-anchor="end" font-weight="normal" >14</text>
<line x1="321.8" y1="494.7" x2="325.3" y2="494.7" stroke="#3a3a3a" stroke-width="1"/>
<line x1="541.8" y1="494.7" x2="538.3" y2="494.7" stroke="#3a3a3a" stroke-width="1"/>
<text x="317.6" y="497.25" font-size="7.5" text-anchor="end" font-weight="normal" >16</text>
<line x1="321.8" y1="477" x2="325.3" y2="477" stroke="#3a3a3a" stroke-width="1"/>
<line x1="541.8" y1="477" x2="538.3" y2="477" stroke="#3a3a3a" stroke-width="1"/>
<text x="317.6" y="479.55" font-size="7.5" text-anchor="end" font-weight="normal" >18</text>
<line x1="321.8" y1="459.3" x2="325.3" y2="459.3" stroke="#3a3a3a" stroke-width="1"/>
<line x1="541.8" y1="459.3" x2="538.3" y2="459.3" stroke="#3a3a3a" stroke-width="1"/>
<text x="317.6" y="461.85" font-size="7.5" text-anchor="end" font-weight="normal" >20</text>
<line x1="459" y1="472.4" x2="476.6" y2="472.4" stroke="#858585" stroke-width="1.6"/>
<rect x="466.6" y="471.2" width="2.4" height="2.4" fill="#000"/>
<text x="477.8" y="475.2" font-size="7.8" text-anchor="start" font-weight="normal" >Upper perforation</text>
<line x1="459" y1="481" x2="476.6" y2="481" stroke="#ff0000" stroke-width="1.2"/>
<circle cx="467.8" cy="481" r="1.4" fill="#ff0000"/>
<text x="477.8" y="484.2" font-size="7.8" text-anchor="start" font-weight="normal" >Middle perforation</text>
<line x1="459" y1="490.6" x2="476.6" y2="490.6" stroke="#00ff00" stroke-width="1.3"/>
<path d="M467.8 488.9l1.5 2.6h-3z" fill="#00ff00"/>
<text x="477.8" y="493.8" font-size="7.8" text-anchor="start" font-weight="normal" >Lower perforation</text>
<text x="354.1" y="475.1" font-size="9.1" text-anchor="start" font-weight="normal" >18.34 MPa</text>
<line x1="396.6" y1="472.2" x2="409.82" y2="473.43" stroke="#222" stroke-width="0.8"/>
<polygon points="413.8,473.8 409.67,475.02 409.97,471.84" fill="#222"/>
<text x="354.1" y="491.8" font-size="9.1" text-anchor="start" font-weight="normal" >18.24 MPa</text>
<line x1="395.8" y1="486.9" x2="409.73" y2="477.1" stroke="#222" stroke-width="0.8"/>
<polygon points="413,474.8 410.65,478.41 408.81,475.79" fill="#222"/>
<text x="425.5" y="504.8" font-size="9.1" text-anchor="start" font-weight="normal" >17.99 MPa</text>
<line x1="427.5" y1="496.5" x2="418.63" y2="482.39" stroke="#222" stroke-width="0.8"/>
<polygon points="416.5,479 419.98,481.54 417.27,483.24" fill="#222"/>
<text x="0" y="0" font-size="10.5" text-anchor="middle" transform="translate(304.05,544.6) rotate(-90)">Injection pressure/MPa</text>
<text x="414.1" y="652.6" font-size="9.4" text-anchor="middle" font-weight="normal" >Time/s</text>
<text x="419" y="670.1" font-size="12" text-anchor="middle">(<tspan font-weight="bold">h</tspan>) 8<tspan font-size="6" dy="-4.6">#</tspan><tspan dy="3.6" font-size="9.5">&#8202;&#8212;</tspan><tspan dy="1">80 mm</tspan></text>
</svg></body></html>
